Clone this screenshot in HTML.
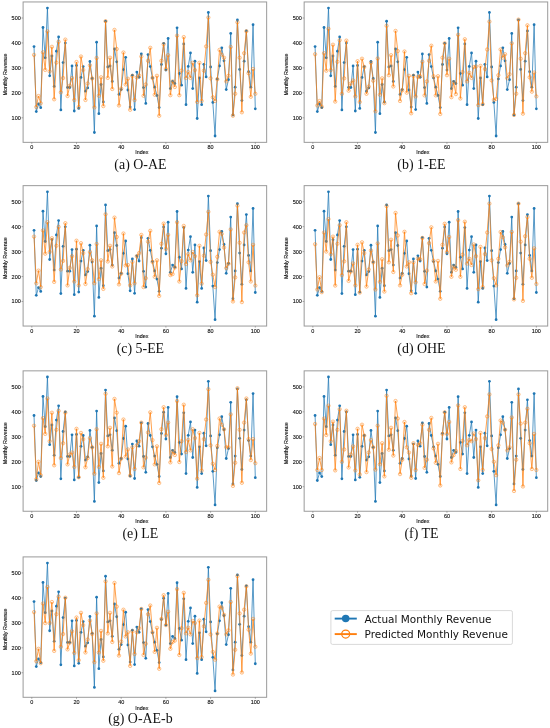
<!DOCTYPE html>
<html><head><meta charset="utf-8"><title>Monthly Revenue: actual vs predicted</title>
<style>
html,body{margin:0;padding:0;background:#fff;}
svg{display:block;}
.t{font-family:"Liberation Sans",Arial,sans-serif;font-size:5.5px;fill:#111;stroke:#111;stroke-width:0.12px;}
.l{font-family:"Liberation Sans",Arial,sans-serif;font-size:5.4px;fill:#111;stroke:#111;stroke-width:0.12px;}
.c{font-family:"Liberation Serif","Times New Roman",serif;font-size:13.9px;fill:#111;}
.g{font-family:"DejaVu Sans",sans-serif;font-size:10.48px;fill:#111;}
</style></head><body>
<svg width="550" height="728" viewBox="0 0 550 728">
<rect width="550" height="728" fill="#fff"/>
<g transform="translate(23.1,1.95)">
<rect x="0" y="0" width="243.55" height="140.4" fill="#fff" stroke="#9a9a9a" stroke-width="1"/>
<path d="M8.7 140.4v1.6M53.4 140.4v1.6M98.1 140.4v1.6M142.8 140.4v1.6M187.5 140.4v1.6M232.2 140.4v1.6M0 115.85h-1.6M0 90.9h-1.6M0 65.95h-1.6M0 41h-1.6M0 16.05h-1.6" stroke="#666" stroke-width="0.5" fill="none"/>
<text class="t" x="8.7" y="147.05" text-anchor="middle">0</text>
<text class="t" x="53.4" y="147.05" text-anchor="middle">20</text>
<text class="t" x="98.1" y="147.05" text-anchor="middle">40</text>
<text class="t" x="142.8" y="147.05" text-anchor="middle">60</text>
<text class="t" x="187.5" y="147.05" text-anchor="middle">80</text>
<text class="t" x="232.2" y="147.05" text-anchor="middle">100</text>
<text class="t" x="-2.3" y="117.85" text-anchor="end">100</text>
<text class="t" x="-2.3" y="92.9" text-anchor="end">200</text>
<text class="t" x="-2.3" y="67.95" text-anchor="end">300</text>
<text class="t" x="-2.3" y="43" text-anchor="end">400</text>
<text class="t" x="-2.3" y="18.05" text-anchor="end">500</text>
<text class="l" x="118.8" y="152.35" text-anchor="middle">Index</text>
<text class="l" transform="translate(-16.2,72.5) rotate(-90)" text-anchor="middle">Monthly Revenue</text>
<polyline points="10.93,44.65 13.17,109.65 15.4,102.05 17.64,105.75 19.88,25.55 22.11,55.85 24.34,6.15 26.58,73.85 28.81,54.05 31.05,84.45 33.28,49.25 35.52,34.95 37.75,107.95 39.99,60.65 42.22,41.15 44.46,85.55 46.69,85.55 48.93,63.95 51.16,109.05 53.4,63.55 55.63,106.45 57.87,75.45 60.1,64.65 62.34,89.25 64.58,85.95 66.81,59.55 69.05,76.45 71.28,130.55 73.52,40.25 75.75,111.75 77.98,82.55 80.22,100.05 82.45,19.25 84.69,65.05 86.92,63.95 89.16,79.45 91.39,47.05 93.63,59.85 95.86,92.45 98.1,87.65 100.33,67.65 102.57,55.35 104.8,88.05 107.04,105.15 109.27,73.25 111.51,107.65 113.74,70.15 115.98,75.35 118.22,52.05 120.45,85.65 122.69,101.45 124.92,52.65 127.16,64.65 129.39,75.95 131.62,85.25 133.86,93.45 136.09,105.65 138.33,62.55 140.56,41.35 142.8,68.15 145.03,36.55 147.27,86.65 149.5,79.45 151.74,81.55 153.97,25.85 156.21,71.55 158.44,83.25 160.68,41.95 162.91,102.75 165.15,64.45 167.38,51.05 169.62,86.65 171.85,59.25 174.09,116.55 176.32,75.95 178.56,102.75 180.79,62.35 183.03,74.95 185.26,10.45 187.5,65.05 189.73,100.45 191.97,134.05 194.2,76.95 196.44,63.95 198.67,45.85 200.91,58.85 203.14,87.65 205.38,77.75 207.61,31.45 209.85,113.05 212.08,85.25 214.32,18.05 216.55,67.45 218.79,98.65 221.02,59.25 223.26,28.95 225.49,69.75 227.73,85.25 229.96,22.75 232.2,106.85" fill="none" stroke="#1f77b4" stroke-width="0.74" stroke-linejoin="round"/>
<g fill="#1f77b4"><circle cx="10.93" cy="44.65" r="1.38"/><circle cx="13.17" cy="109.65" r="1.38"/><circle cx="15.4" cy="102.05" r="1.38"/><circle cx="17.64" cy="105.75" r="1.38"/><circle cx="19.88" cy="25.55" r="1.38"/><circle cx="22.11" cy="55.85" r="1.38"/><circle cx="24.34" cy="6.15" r="1.38"/><circle cx="26.58" cy="73.85" r="1.38"/><circle cx="28.81" cy="54.05" r="1.38"/><circle cx="31.05" cy="84.45" r="1.38"/><circle cx="33.28" cy="49.25" r="1.38"/><circle cx="35.52" cy="34.95" r="1.38"/><circle cx="37.75" cy="107.95" r="1.38"/><circle cx="39.99" cy="60.65" r="1.38"/><circle cx="42.22" cy="41.15" r="1.38"/><circle cx="44.46" cy="85.55" r="1.38"/><circle cx="46.69" cy="85.55" r="1.38"/><circle cx="48.93" cy="63.95" r="1.38"/><circle cx="51.16" cy="109.05" r="1.38"/><circle cx="53.4" cy="63.55" r="1.38"/><circle cx="55.63" cy="106.45" r="1.38"/><circle cx="57.87" cy="75.45" r="1.38"/><circle cx="60.1" cy="64.65" r="1.38"/><circle cx="62.34" cy="89.25" r="1.38"/><circle cx="64.58" cy="85.95" r="1.38"/><circle cx="66.81" cy="59.55" r="1.38"/><circle cx="69.05" cy="76.45" r="1.38"/><circle cx="71.28" cy="130.55" r="1.38"/><circle cx="73.52" cy="40.25" r="1.38"/><circle cx="75.75" cy="111.75" r="1.38"/><circle cx="77.98" cy="82.55" r="1.38"/><circle cx="80.22" cy="100.05" r="1.38"/><circle cx="82.45" cy="19.25" r="1.38"/><circle cx="84.69" cy="65.05" r="1.38"/><circle cx="86.92" cy="63.95" r="1.38"/><circle cx="89.16" cy="79.45" r="1.38"/><circle cx="91.39" cy="47.05" r="1.38"/><circle cx="93.63" cy="59.85" r="1.38"/><circle cx="95.86" cy="92.45" r="1.38"/><circle cx="98.1" cy="87.65" r="1.38"/><circle cx="100.33" cy="67.65" r="1.38"/><circle cx="102.57" cy="55.35" r="1.38"/><circle cx="104.8" cy="88.05" r="1.38"/><circle cx="107.04" cy="105.15" r="1.38"/><circle cx="109.27" cy="73.25" r="1.38"/><circle cx="111.51" cy="107.65" r="1.38"/><circle cx="113.74" cy="70.15" r="1.38"/><circle cx="115.98" cy="75.35" r="1.38"/><circle cx="118.22" cy="52.05" r="1.38"/><circle cx="120.45" cy="85.65" r="1.38"/><circle cx="122.69" cy="101.45" r="1.38"/><circle cx="124.92" cy="52.65" r="1.38"/><circle cx="127.16" cy="64.65" r="1.38"/><circle cx="129.39" cy="75.95" r="1.38"/><circle cx="131.62" cy="85.25" r="1.38"/><circle cx="133.86" cy="93.45" r="1.38"/><circle cx="136.09" cy="105.65" r="1.38"/><circle cx="138.33" cy="62.55" r="1.38"/><circle cx="140.56" cy="41.35" r="1.38"/><circle cx="142.8" cy="68.15" r="1.38"/><circle cx="145.03" cy="36.55" r="1.38"/><circle cx="147.27" cy="86.65" r="1.38"/><circle cx="149.5" cy="79.45" r="1.38"/><circle cx="151.74" cy="81.55" r="1.38"/><circle cx="153.97" cy="25.85" r="1.38"/><circle cx="156.21" cy="71.55" r="1.38"/><circle cx="158.44" cy="83.25" r="1.38"/><circle cx="160.68" cy="41.95" r="1.38"/><circle cx="162.91" cy="102.75" r="1.38"/><circle cx="165.15" cy="64.45" r="1.38"/><circle cx="167.38" cy="51.05" r="1.38"/><circle cx="169.62" cy="86.65" r="1.38"/><circle cx="171.85" cy="59.25" r="1.38"/><circle cx="174.09" cy="116.55" r="1.38"/><circle cx="176.32" cy="75.95" r="1.38"/><circle cx="178.56" cy="102.75" r="1.38"/><circle cx="180.79" cy="62.35" r="1.38"/><circle cx="183.03" cy="74.95" r="1.38"/><circle cx="185.26" cy="10.45" r="1.38"/><circle cx="187.5" cy="65.05" r="1.38"/><circle cx="189.73" cy="100.45" r="1.38"/><circle cx="191.97" cy="134.05" r="1.38"/><circle cx="194.2" cy="76.95" r="1.38"/><circle cx="196.44" cy="63.95" r="1.38"/><circle cx="198.67" cy="45.85" r="1.38"/><circle cx="200.91" cy="58.85" r="1.38"/><circle cx="203.14" cy="87.65" r="1.38"/><circle cx="205.38" cy="77.75" r="1.38"/><circle cx="207.61" cy="31.45" r="1.38"/><circle cx="209.85" cy="113.05" r="1.38"/><circle cx="212.08" cy="85.25" r="1.38"/><circle cx="214.32" cy="18.05" r="1.38"/><circle cx="216.55" cy="67.45" r="1.38"/><circle cx="218.79" cy="98.65" r="1.38"/><circle cx="221.02" cy="59.25" r="1.38"/><circle cx="223.26" cy="28.95" r="1.38"/><circle cx="225.49" cy="69.75" r="1.38"/><circle cx="227.73" cy="85.25" r="1.38"/><circle cx="229.96" cy="22.75" r="1.38"/><circle cx="232.2" cy="106.85" r="1.38"/></g>
<polyline points="10.93,52.95 13.17,105.05 15.4,94.05 17.64,101.35 19.88,50.35 22.11,67.95 24.34,29.45 26.58,69.45 28.81,44.85 31.05,97.35 33.28,60.65 35.52,39.85 37.75,90.35 39.99,76.05 42.22,37.65 44.46,94.05 46.69,83.75 48.93,76.05 51.16,98.05 53.4,60.05 55.63,105.05 57.87,54.55 60.1,67.95 62.34,98.05 64.58,81.55 66.81,63.35 69.05,76.55 71.28,105.45 73.52,56.05 75.75,93.85 77.98,75.35 80.22,104.15 82.45,19.25 84.69,75.95 86.92,55.75 89.16,87.05 91.39,27.95 93.63,47.05 95.86,103.55 98.1,86.65 100.33,50.55 102.57,82.55 104.8,76.75 107.04,107.85 109.27,74.05 111.51,98.05 113.74,75.55 115.98,73.55 118.22,54.55 120.45,93.85 122.69,82.55 124.92,58.85 127.16,45.85 129.39,75.95 131.62,92.85 133.86,73.85 136.09,113.85 138.33,58.85 140.56,42.35 142.8,67.05 145.03,53.25 147.27,93.25 149.5,79.45 151.74,85.05 153.97,33.75 156.21,93.25 158.44,68.65 160.68,35.15 162.91,76.15 165.15,70.15 167.38,75.95 169.62,60.85 171.85,68.15 174.09,100.05 176.32,60.85 178.56,99.05 180.79,68.75 183.03,44.45 185.26,15.55 187.5,76.35 189.73,95.35 191.97,99.05 194.2,77.35 196.44,47.95 198.67,52.65 200.91,55.75 203.14,79.45 205.38,73.85 207.61,45.05 209.85,113.85 212.08,91.85 214.32,20.35 216.55,55.75 218.79,110.35 221.02,51.25 223.26,29.35 225.49,71.25 227.73,94.85 229.96,67.05 232.2,91.85" fill="none" stroke="#ff7f0e" stroke-width="0.74" stroke-linejoin="round"/>
<g fill="#ff7f0e" fill-opacity="0.1" stroke="#ff7f0e" stroke-width="0.6" stroke-opacity="0.75"><circle cx="10.93" cy="52.95" r="1.7"/><circle cx="13.17" cy="105.05" r="1.7"/><circle cx="15.4" cy="94.05" r="1.7"/><circle cx="17.64" cy="101.35" r="1.7"/><circle cx="19.88" cy="50.35" r="1.7"/><circle cx="22.11" cy="67.95" r="1.7"/><circle cx="24.34" cy="29.45" r="1.7"/><circle cx="26.58" cy="69.45" r="1.7"/><circle cx="28.81" cy="44.85" r="1.7"/><circle cx="31.05" cy="97.35" r="1.7"/><circle cx="33.28" cy="60.65" r="1.7"/><circle cx="35.52" cy="39.85" r="1.7"/><circle cx="37.75" cy="90.35" r="1.7"/><circle cx="39.99" cy="76.05" r="1.7"/><circle cx="42.22" cy="37.65" r="1.7"/><circle cx="44.46" cy="94.05" r="1.7"/><circle cx="46.69" cy="83.75" r="1.7"/><circle cx="48.93" cy="76.05" r="1.7"/><circle cx="51.16" cy="98.05" r="1.7"/><circle cx="53.4" cy="60.05" r="1.7"/><circle cx="55.63" cy="105.05" r="1.7"/><circle cx="57.87" cy="54.55" r="1.7"/><circle cx="60.1" cy="67.95" r="1.7"/><circle cx="62.34" cy="98.05" r="1.7"/><circle cx="64.58" cy="81.55" r="1.7"/><circle cx="66.81" cy="63.35" r="1.7"/><circle cx="69.05" cy="76.55" r="1.7"/><circle cx="71.28" cy="105.45" r="1.7"/><circle cx="73.52" cy="56.05" r="1.7"/><circle cx="75.75" cy="93.85" r="1.7"/><circle cx="77.98" cy="75.35" r="1.7"/><circle cx="80.22" cy="104.15" r="1.7"/><circle cx="82.45" cy="19.25" r="1.7"/><circle cx="84.69" cy="75.95" r="1.7"/><circle cx="86.92" cy="55.75" r="1.7"/><circle cx="89.16" cy="87.05" r="1.7"/><circle cx="91.39" cy="27.95" r="1.7"/><circle cx="93.63" cy="47.05" r="1.7"/><circle cx="95.86" cy="103.55" r="1.7"/><circle cx="98.1" cy="86.65" r="1.7"/><circle cx="100.33" cy="50.55" r="1.7"/><circle cx="102.57" cy="82.55" r="1.7"/><circle cx="104.8" cy="76.75" r="1.7"/><circle cx="107.04" cy="107.85" r="1.7"/><circle cx="109.27" cy="74.05" r="1.7"/><circle cx="111.51" cy="98.05" r="1.7"/><circle cx="113.74" cy="75.55" r="1.7"/><circle cx="115.98" cy="73.55" r="1.7"/><circle cx="118.22" cy="54.55" r="1.7"/><circle cx="120.45" cy="93.85" r="1.7"/><circle cx="122.69" cy="82.55" r="1.7"/><circle cx="124.92" cy="58.85" r="1.7"/><circle cx="127.16" cy="45.85" r="1.7"/><circle cx="129.39" cy="75.95" r="1.7"/><circle cx="131.62" cy="92.85" r="1.7"/><circle cx="133.86" cy="73.85" r="1.7"/><circle cx="136.09" cy="113.85" r="1.7"/><circle cx="138.33" cy="58.85" r="1.7"/><circle cx="140.56" cy="42.35" r="1.7"/><circle cx="142.8" cy="67.05" r="1.7"/><circle cx="145.03" cy="53.25" r="1.7"/><circle cx="147.27" cy="93.25" r="1.7"/><circle cx="149.5" cy="79.45" r="1.7"/><circle cx="151.74" cy="85.05" r="1.7"/><circle cx="153.97" cy="33.75" r="1.7"/><circle cx="156.21" cy="93.25" r="1.7"/><circle cx="158.44" cy="68.65" r="1.7"/><circle cx="160.68" cy="35.15" r="1.7"/><circle cx="162.91" cy="76.15" r="1.7"/><circle cx="165.15" cy="70.15" r="1.7"/><circle cx="167.38" cy="75.95" r="1.7"/><circle cx="169.62" cy="60.85" r="1.7"/><circle cx="171.85" cy="68.15" r="1.7"/><circle cx="174.09" cy="100.05" r="1.7"/><circle cx="176.32" cy="60.85" r="1.7"/><circle cx="178.56" cy="99.05" r="1.7"/><circle cx="180.79" cy="68.75" r="1.7"/><circle cx="183.03" cy="44.45" r="1.7"/><circle cx="185.26" cy="15.55" r="1.7"/><circle cx="187.5" cy="76.35" r="1.7"/><circle cx="189.73" cy="95.35" r="1.7"/><circle cx="191.97" cy="99.05" r="1.7"/><circle cx="194.2" cy="77.35" r="1.7"/><circle cx="196.44" cy="47.95" r="1.7"/><circle cx="198.67" cy="52.65" r="1.7"/><circle cx="200.91" cy="55.75" r="1.7"/><circle cx="203.14" cy="79.45" r="1.7"/><circle cx="205.38" cy="73.85" r="1.7"/><circle cx="207.61" cy="45.05" r="1.7"/><circle cx="209.85" cy="113.85" r="1.7"/><circle cx="212.08" cy="91.85" r="1.7"/><circle cx="214.32" cy="20.35" r="1.7"/><circle cx="216.55" cy="55.75" r="1.7"/><circle cx="218.79" cy="110.35" r="1.7"/><circle cx="221.02" cy="51.25" r="1.7"/><circle cx="223.26" cy="29.35" r="1.7"/><circle cx="225.49" cy="71.25" r="1.7"/><circle cx="227.73" cy="94.85" r="1.7"/><circle cx="229.96" cy="67.05" r="1.7"/><circle cx="232.2" cy="91.85" r="1.7"/></g>
<text class="c" x="117.3" y="166.95" text-anchor="middle">(a) O-AE</text>
</g>
<g transform="translate(304.15,1.95)">
<rect x="0" y="0" width="243.55" height="140.4" fill="#fff" stroke="#9a9a9a" stroke-width="1"/>
<path d="M8.7 140.4v1.6M53.4 140.4v1.6M98.1 140.4v1.6M142.8 140.4v1.6M187.5 140.4v1.6M232.2 140.4v1.6M0 115.85h-1.6M0 90.9h-1.6M0 65.95h-1.6M0 41h-1.6M0 16.05h-1.6" stroke="#666" stroke-width="0.5" fill="none"/>
<text class="t" x="8.7" y="147.05" text-anchor="middle">0</text>
<text class="t" x="53.4" y="147.05" text-anchor="middle">20</text>
<text class="t" x="98.1" y="147.05" text-anchor="middle">40</text>
<text class="t" x="142.8" y="147.05" text-anchor="middle">60</text>
<text class="t" x="187.5" y="147.05" text-anchor="middle">80</text>
<text class="t" x="232.2" y="147.05" text-anchor="middle">100</text>
<text class="t" x="-2.3" y="117.85" text-anchor="end">100</text>
<text class="t" x="-2.3" y="92.9" text-anchor="end">200</text>
<text class="t" x="-2.3" y="67.95" text-anchor="end">300</text>
<text class="t" x="-2.3" y="43" text-anchor="end">400</text>
<text class="t" x="-2.3" y="18.05" text-anchor="end">500</text>
<text class="l" x="118.8" y="152.35" text-anchor="middle">Index</text>
<text class="l" transform="translate(-16.2,72.5) rotate(-90)" text-anchor="middle">Monthly Revenue</text>
<polyline points="10.93,44.65 13.17,109.65 15.4,102.05 17.64,105.75 19.88,25.55 22.11,55.85 24.34,6.15 26.58,73.85 28.81,54.05 31.05,84.45 33.28,49.25 35.52,34.95 37.75,107.95 39.99,60.65 42.22,41.15 44.46,85.55 46.69,85.55 48.93,63.95 51.16,109.05 53.4,63.55 55.63,106.45 57.87,75.45 60.1,64.65 62.34,89.25 64.58,85.95 66.81,59.55 69.05,76.45 71.28,130.55 73.52,40.25 75.75,111.75 77.98,82.55 80.22,100.05 82.45,19.25 84.69,65.05 86.92,63.95 89.16,79.45 91.39,47.05 93.63,59.85 95.86,92.45 98.1,87.65 100.33,67.65 102.57,55.35 104.8,88.05 107.04,105.15 109.27,73.25 111.51,107.65 113.74,70.15 115.98,75.35 118.22,52.05 120.45,85.65 122.69,101.45 124.92,52.65 127.16,64.65 129.39,75.95 131.62,85.25 133.86,93.45 136.09,105.65 138.33,62.55 140.56,41.35 142.8,68.15 145.03,36.55 147.27,86.65 149.5,79.45 151.74,81.55 153.97,25.85 156.21,71.55 158.44,83.25 160.68,41.95 162.91,102.75 165.15,64.45 167.38,51.05 169.62,86.65 171.85,59.25 174.09,116.55 176.32,75.95 178.56,102.75 180.79,62.35 183.03,74.95 185.26,10.45 187.5,65.05 189.73,100.45 191.97,134.05 194.2,76.95 196.44,63.95 198.67,45.85 200.91,58.85 203.14,87.65 205.38,77.75 207.61,31.45 209.85,113.05 212.08,85.25 214.32,18.05 216.55,67.45 218.79,98.65 221.02,59.25 223.26,28.95 225.49,69.75 227.73,85.25 229.96,22.75 232.2,106.85" fill="none" stroke="#1f77b4" stroke-width="0.74" stroke-linejoin="round"/>
<g fill="#1f77b4"><circle cx="10.93" cy="44.65" r="1.38"/><circle cx="13.17" cy="109.65" r="1.38"/><circle cx="15.4" cy="102.05" r="1.38"/><circle cx="17.64" cy="105.75" r="1.38"/><circle cx="19.88" cy="25.55" r="1.38"/><circle cx="22.11" cy="55.85" r="1.38"/><circle cx="24.34" cy="6.15" r="1.38"/><circle cx="26.58" cy="73.85" r="1.38"/><circle cx="28.81" cy="54.05" r="1.38"/><circle cx="31.05" cy="84.45" r="1.38"/><circle cx="33.28" cy="49.25" r="1.38"/><circle cx="35.52" cy="34.95" r="1.38"/><circle cx="37.75" cy="107.95" r="1.38"/><circle cx="39.99" cy="60.65" r="1.38"/><circle cx="42.22" cy="41.15" r="1.38"/><circle cx="44.46" cy="85.55" r="1.38"/><circle cx="46.69" cy="85.55" r="1.38"/><circle cx="48.93" cy="63.95" r="1.38"/><circle cx="51.16" cy="109.05" r="1.38"/><circle cx="53.4" cy="63.55" r="1.38"/><circle cx="55.63" cy="106.45" r="1.38"/><circle cx="57.87" cy="75.45" r="1.38"/><circle cx="60.1" cy="64.65" r="1.38"/><circle cx="62.34" cy="89.25" r="1.38"/><circle cx="64.58" cy="85.95" r="1.38"/><circle cx="66.81" cy="59.55" r="1.38"/><circle cx="69.05" cy="76.45" r="1.38"/><circle cx="71.28" cy="130.55" r="1.38"/><circle cx="73.52" cy="40.25" r="1.38"/><circle cx="75.75" cy="111.75" r="1.38"/><circle cx="77.98" cy="82.55" r="1.38"/><circle cx="80.22" cy="100.05" r="1.38"/><circle cx="82.45" cy="19.25" r="1.38"/><circle cx="84.69" cy="65.05" r="1.38"/><circle cx="86.92" cy="63.95" r="1.38"/><circle cx="89.16" cy="79.45" r="1.38"/><circle cx="91.39" cy="47.05" r="1.38"/><circle cx="93.63" cy="59.85" r="1.38"/><circle cx="95.86" cy="92.45" r="1.38"/><circle cx="98.1" cy="87.65" r="1.38"/><circle cx="100.33" cy="67.65" r="1.38"/><circle cx="102.57" cy="55.35" r="1.38"/><circle cx="104.8" cy="88.05" r="1.38"/><circle cx="107.04" cy="105.15" r="1.38"/><circle cx="109.27" cy="73.25" r="1.38"/><circle cx="111.51" cy="107.65" r="1.38"/><circle cx="113.74" cy="70.15" r="1.38"/><circle cx="115.98" cy="75.35" r="1.38"/><circle cx="118.22" cy="52.05" r="1.38"/><circle cx="120.45" cy="85.65" r="1.38"/><circle cx="122.69" cy="101.45" r="1.38"/><circle cx="124.92" cy="52.65" r="1.38"/><circle cx="127.16" cy="64.65" r="1.38"/><circle cx="129.39" cy="75.95" r="1.38"/><circle cx="131.62" cy="85.25" r="1.38"/><circle cx="133.86" cy="93.45" r="1.38"/><circle cx="136.09" cy="105.65" r="1.38"/><circle cx="138.33" cy="62.55" r="1.38"/><circle cx="140.56" cy="41.35" r="1.38"/><circle cx="142.8" cy="68.15" r="1.38"/><circle cx="145.03" cy="36.55" r="1.38"/><circle cx="147.27" cy="86.65" r="1.38"/><circle cx="149.5" cy="79.45" r="1.38"/><circle cx="151.74" cy="81.55" r="1.38"/><circle cx="153.97" cy="25.85" r="1.38"/><circle cx="156.21" cy="71.55" r="1.38"/><circle cx="158.44" cy="83.25" r="1.38"/><circle cx="160.68" cy="41.95" r="1.38"/><circle cx="162.91" cy="102.75" r="1.38"/><circle cx="165.15" cy="64.45" r="1.38"/><circle cx="167.38" cy="51.05" r="1.38"/><circle cx="169.62" cy="86.65" r="1.38"/><circle cx="171.85" cy="59.25" r="1.38"/><circle cx="174.09" cy="116.55" r="1.38"/><circle cx="176.32" cy="75.95" r="1.38"/><circle cx="178.56" cy="102.75" r="1.38"/><circle cx="180.79" cy="62.35" r="1.38"/><circle cx="183.03" cy="74.95" r="1.38"/><circle cx="185.26" cy="10.45" r="1.38"/><circle cx="187.5" cy="65.05" r="1.38"/><circle cx="189.73" cy="100.45" r="1.38"/><circle cx="191.97" cy="134.05" r="1.38"/><circle cx="194.2" cy="76.95" r="1.38"/><circle cx="196.44" cy="63.95" r="1.38"/><circle cx="198.67" cy="45.85" r="1.38"/><circle cx="200.91" cy="58.85" r="1.38"/><circle cx="203.14" cy="87.65" r="1.38"/><circle cx="205.38" cy="77.75" r="1.38"/><circle cx="207.61" cy="31.45" r="1.38"/><circle cx="209.85" cy="113.05" r="1.38"/><circle cx="212.08" cy="85.25" r="1.38"/><circle cx="214.32" cy="18.05" r="1.38"/><circle cx="216.55" cy="67.45" r="1.38"/><circle cx="218.79" cy="98.65" r="1.38"/><circle cx="221.02" cy="59.25" r="1.38"/><circle cx="223.26" cy="28.95" r="1.38"/><circle cx="225.49" cy="69.75" r="1.38"/><circle cx="227.73" cy="85.25" r="1.38"/><circle cx="229.96" cy="22.75" r="1.38"/><circle cx="232.2" cy="106.85" r="1.38"/></g>
<polyline points="10.93,52.25 13.17,103.55 15.4,99.05 17.64,104.75 19.88,51.25 22.11,68.75 24.34,26.85 26.58,68.15 28.81,42.75 31.05,99.65 33.28,59.85 35.52,38.25 37.75,91.85 39.99,76.35 42.22,38.65 44.46,88.75 46.69,81.55 48.93,78.45 51.16,94.45 53.4,59.25 55.63,100.05 57.87,56.75 60.1,65.05 62.34,91.85 64.58,84.55 66.81,60.85 69.05,78.75 71.28,109.35 73.52,56.55 75.75,92.85 77.98,76.35 80.22,101.25 82.45,23.85 84.69,73.25 86.92,53.25 89.16,84.55 91.39,28.95 93.63,49.15 95.86,99.05 98.1,88.35 100.33,49.55 102.57,90.75 104.8,73.85 107.04,111.35 109.27,74.05 111.51,94.55 113.74,75.05 115.98,74.25 118.22,59.85 120.45,93.45 122.69,79.45 124.92,58.85 127.16,43.75 129.39,74.25 131.62,93.45 133.86,74.25 136.09,112.05 138.33,55.75 140.56,41.35 142.8,73.25 145.03,56.75 147.27,95.25 149.5,80.45 151.74,92.15 153.97,32.85 156.21,96.55 158.44,70.15 160.68,37.25 162.91,79.45 165.15,70.85 167.38,75.95 169.62,65.05 171.85,64.45 174.09,103.15 176.32,63.95 178.56,102.15 180.79,67.05 183.03,47.55 185.26,19.65 187.5,78.45 189.73,97.95 191.97,96.95 194.2,73.25 196.44,47.55 198.67,55.75 200.91,52.25 203.14,76.35 205.38,72.25 207.61,41.35 209.85,113.05 212.08,91.85 214.32,17.65 216.55,56.75 218.79,111.75 221.02,51.25 223.26,23.35 225.49,75.35 227.73,89.75 229.96,70.55 232.2,94.45" fill="none" stroke="#ff7f0e" stroke-width="0.74" stroke-linejoin="round"/>
<g fill="#ff7f0e" fill-opacity="0.1" stroke="#ff7f0e" stroke-width="0.6" stroke-opacity="0.75"><circle cx="10.93" cy="52.25" r="1.7"/><circle cx="13.17" cy="103.55" r="1.7"/><circle cx="15.4" cy="99.05" r="1.7"/><circle cx="17.64" cy="104.75" r="1.7"/><circle cx="19.88" cy="51.25" r="1.7"/><circle cx="22.11" cy="68.75" r="1.7"/><circle cx="24.34" cy="26.85" r="1.7"/><circle cx="26.58" cy="68.15" r="1.7"/><circle cx="28.81" cy="42.75" r="1.7"/><circle cx="31.05" cy="99.65" r="1.7"/><circle cx="33.28" cy="59.85" r="1.7"/><circle cx="35.52" cy="38.25" r="1.7"/><circle cx="37.75" cy="91.85" r="1.7"/><circle cx="39.99" cy="76.35" r="1.7"/><circle cx="42.22" cy="38.65" r="1.7"/><circle cx="44.46" cy="88.75" r="1.7"/><circle cx="46.69" cy="81.55" r="1.7"/><circle cx="48.93" cy="78.45" r="1.7"/><circle cx="51.16" cy="94.45" r="1.7"/><circle cx="53.4" cy="59.25" r="1.7"/><circle cx="55.63" cy="100.05" r="1.7"/><circle cx="57.87" cy="56.75" r="1.7"/><circle cx="60.1" cy="65.05" r="1.7"/><circle cx="62.34" cy="91.85" r="1.7"/><circle cx="64.58" cy="84.55" r="1.7"/><circle cx="66.81" cy="60.85" r="1.7"/><circle cx="69.05" cy="78.75" r="1.7"/><circle cx="71.28" cy="109.35" r="1.7"/><circle cx="73.52" cy="56.55" r="1.7"/><circle cx="75.75" cy="92.85" r="1.7"/><circle cx="77.98" cy="76.35" r="1.7"/><circle cx="80.22" cy="101.25" r="1.7"/><circle cx="82.45" cy="23.85" r="1.7"/><circle cx="84.69" cy="73.25" r="1.7"/><circle cx="86.92" cy="53.25" r="1.7"/><circle cx="89.16" cy="84.55" r="1.7"/><circle cx="91.39" cy="28.95" r="1.7"/><circle cx="93.63" cy="49.15" r="1.7"/><circle cx="95.86" cy="99.05" r="1.7"/><circle cx="98.1" cy="88.35" r="1.7"/><circle cx="100.33" cy="49.55" r="1.7"/><circle cx="102.57" cy="90.75" r="1.7"/><circle cx="104.8" cy="73.85" r="1.7"/><circle cx="107.04" cy="111.35" r="1.7"/><circle cx="109.27" cy="74.05" r="1.7"/><circle cx="111.51" cy="94.55" r="1.7"/><circle cx="113.74" cy="75.05" r="1.7"/><circle cx="115.98" cy="74.25" r="1.7"/><circle cx="118.22" cy="59.85" r="1.7"/><circle cx="120.45" cy="93.45" r="1.7"/><circle cx="122.69" cy="79.45" r="1.7"/><circle cx="124.92" cy="58.85" r="1.7"/><circle cx="127.16" cy="43.75" r="1.7"/><circle cx="129.39" cy="74.25" r="1.7"/><circle cx="131.62" cy="93.45" r="1.7"/><circle cx="133.86" cy="74.25" r="1.7"/><circle cx="136.09" cy="112.05" r="1.7"/><circle cx="138.33" cy="55.75" r="1.7"/><circle cx="140.56" cy="41.35" r="1.7"/><circle cx="142.8" cy="73.25" r="1.7"/><circle cx="145.03" cy="56.75" r="1.7"/><circle cx="147.27" cy="95.25" r="1.7"/><circle cx="149.5" cy="80.45" r="1.7"/><circle cx="151.74" cy="92.15" r="1.7"/><circle cx="153.97" cy="32.85" r="1.7"/><circle cx="156.21" cy="96.55" r="1.7"/><circle cx="158.44" cy="70.15" r="1.7"/><circle cx="160.68" cy="37.25" r="1.7"/><circle cx="162.91" cy="79.45" r="1.7"/><circle cx="165.15" cy="70.85" r="1.7"/><circle cx="167.38" cy="75.95" r="1.7"/><circle cx="169.62" cy="65.05" r="1.7"/><circle cx="171.85" cy="64.45" r="1.7"/><circle cx="174.09" cy="103.15" r="1.7"/><circle cx="176.32" cy="63.95" r="1.7"/><circle cx="178.56" cy="102.15" r="1.7"/><circle cx="180.79" cy="67.05" r="1.7"/><circle cx="183.03" cy="47.55" r="1.7"/><circle cx="185.26" cy="19.65" r="1.7"/><circle cx="187.5" cy="78.45" r="1.7"/><circle cx="189.73" cy="97.95" r="1.7"/><circle cx="191.97" cy="96.95" r="1.7"/><circle cx="194.2" cy="73.25" r="1.7"/><circle cx="196.44" cy="47.55" r="1.7"/><circle cx="198.67" cy="55.75" r="1.7"/><circle cx="200.91" cy="52.25" r="1.7"/><circle cx="203.14" cy="76.35" r="1.7"/><circle cx="205.38" cy="72.25" r="1.7"/><circle cx="207.61" cy="41.35" r="1.7"/><circle cx="209.85" cy="113.05" r="1.7"/><circle cx="212.08" cy="91.85" r="1.7"/><circle cx="214.32" cy="17.65" r="1.7"/><circle cx="216.55" cy="56.75" r="1.7"/><circle cx="218.79" cy="111.75" r="1.7"/><circle cx="221.02" cy="51.25" r="1.7"/><circle cx="223.26" cy="23.35" r="1.7"/><circle cx="225.49" cy="75.35" r="1.7"/><circle cx="227.73" cy="89.75" r="1.7"/><circle cx="229.96" cy="70.55" r="1.7"/><circle cx="232.2" cy="94.45" r="1.7"/></g>
<text class="c" x="117.3" y="166.95" text-anchor="middle">(b) 1-EE</text>
</g>
<g transform="translate(23.1,185.65)">
<rect x="0" y="0" width="243.55" height="140.4" fill="#fff" stroke="#9a9a9a" stroke-width="1"/>
<path d="M8.7 140.4v1.6M53.4 140.4v1.6M98.1 140.4v1.6M142.8 140.4v1.6M187.5 140.4v1.6M232.2 140.4v1.6M0 115.85h-1.6M0 90.9h-1.6M0 65.95h-1.6M0 41h-1.6M0 16.05h-1.6" stroke="#666" stroke-width="0.5" fill="none"/>
<text class="t" x="8.7" y="147.05" text-anchor="middle">0</text>
<text class="t" x="53.4" y="147.05" text-anchor="middle">20</text>
<text class="t" x="98.1" y="147.05" text-anchor="middle">40</text>
<text class="t" x="142.8" y="147.05" text-anchor="middle">60</text>
<text class="t" x="187.5" y="147.05" text-anchor="middle">80</text>
<text class="t" x="232.2" y="147.05" text-anchor="middle">100</text>
<text class="t" x="-2.3" y="117.85" text-anchor="end">100</text>
<text class="t" x="-2.3" y="92.9" text-anchor="end">200</text>
<text class="t" x="-2.3" y="67.95" text-anchor="end">300</text>
<text class="t" x="-2.3" y="43" text-anchor="end">400</text>
<text class="t" x="-2.3" y="18.05" text-anchor="end">500</text>
<text class="l" x="118.8" y="152.35" text-anchor="middle">Index</text>
<text class="l" transform="translate(-16.2,72.5) rotate(-90)" text-anchor="middle">Monthly Revenue</text>
<polyline points="10.93,44.65 13.17,109.65 15.4,102.05 17.64,105.75 19.88,25.55 22.11,55.85 24.34,6.15 26.58,73.85 28.81,54.05 31.05,84.45 33.28,49.25 35.52,34.95 37.75,107.95 39.99,60.65 42.22,41.15 44.46,85.55 46.69,85.55 48.93,63.95 51.16,109.05 53.4,63.55 55.63,106.45 57.87,75.45 60.1,64.65 62.34,89.25 64.58,85.95 66.81,59.55 69.05,76.45 71.28,130.55 73.52,40.25 75.75,111.75 77.98,82.55 80.22,100.05 82.45,19.25 84.69,65.05 86.92,63.95 89.16,79.45 91.39,47.05 93.63,59.85 95.86,92.45 98.1,87.65 100.33,67.65 102.57,55.35 104.8,88.05 107.04,105.15 109.27,73.25 111.51,107.65 113.74,70.15 115.98,75.35 118.22,52.05 120.45,85.65 122.69,101.45 124.92,52.65 127.16,64.65 129.39,75.95 131.62,85.25 133.86,93.45 136.09,105.65 138.33,62.55 140.56,41.35 142.8,68.15 145.03,36.55 147.27,86.65 149.5,79.45 151.74,81.55 153.97,25.85 156.21,71.55 158.44,83.25 160.68,41.95 162.91,102.75 165.15,64.45 167.38,51.05 169.62,86.65 171.85,59.25 174.09,116.55 176.32,75.95 178.56,102.75 180.79,62.35 183.03,74.95 185.26,10.45 187.5,65.05 189.73,100.45 191.97,134.05 194.2,76.95 196.44,63.95 198.67,45.85 200.91,58.85 203.14,87.65 205.38,77.75 207.61,31.45 209.85,113.05 212.08,85.25 214.32,18.05 216.55,67.45 218.79,98.65 221.02,59.25 223.26,28.95 225.49,69.75 227.73,85.25 229.96,22.75 232.2,106.85" fill="none" stroke="#1f77b4" stroke-width="0.74" stroke-linejoin="round"/>
<g fill="#1f77b4"><circle cx="10.93" cy="44.65" r="1.38"/><circle cx="13.17" cy="109.65" r="1.38"/><circle cx="15.4" cy="102.05" r="1.38"/><circle cx="17.64" cy="105.75" r="1.38"/><circle cx="19.88" cy="25.55" r="1.38"/><circle cx="22.11" cy="55.85" r="1.38"/><circle cx="24.34" cy="6.15" r="1.38"/><circle cx="26.58" cy="73.85" r="1.38"/><circle cx="28.81" cy="54.05" r="1.38"/><circle cx="31.05" cy="84.45" r="1.38"/><circle cx="33.28" cy="49.25" r="1.38"/><circle cx="35.52" cy="34.95" r="1.38"/><circle cx="37.75" cy="107.95" r="1.38"/><circle cx="39.99" cy="60.65" r="1.38"/><circle cx="42.22" cy="41.15" r="1.38"/><circle cx="44.46" cy="85.55" r="1.38"/><circle cx="46.69" cy="85.55" r="1.38"/><circle cx="48.93" cy="63.95" r="1.38"/><circle cx="51.16" cy="109.05" r="1.38"/><circle cx="53.4" cy="63.55" r="1.38"/><circle cx="55.63" cy="106.45" r="1.38"/><circle cx="57.87" cy="75.45" r="1.38"/><circle cx="60.1" cy="64.65" r="1.38"/><circle cx="62.34" cy="89.25" r="1.38"/><circle cx="64.58" cy="85.95" r="1.38"/><circle cx="66.81" cy="59.55" r="1.38"/><circle cx="69.05" cy="76.45" r="1.38"/><circle cx="71.28" cy="130.55" r="1.38"/><circle cx="73.52" cy="40.25" r="1.38"/><circle cx="75.75" cy="111.75" r="1.38"/><circle cx="77.98" cy="82.55" r="1.38"/><circle cx="80.22" cy="100.05" r="1.38"/><circle cx="82.45" cy="19.25" r="1.38"/><circle cx="84.69" cy="65.05" r="1.38"/><circle cx="86.92" cy="63.95" r="1.38"/><circle cx="89.16" cy="79.45" r="1.38"/><circle cx="91.39" cy="47.05" r="1.38"/><circle cx="93.63" cy="59.85" r="1.38"/><circle cx="95.86" cy="92.45" r="1.38"/><circle cx="98.1" cy="87.65" r="1.38"/><circle cx="100.33" cy="67.65" r="1.38"/><circle cx="102.57" cy="55.35" r="1.38"/><circle cx="104.8" cy="88.05" r="1.38"/><circle cx="107.04" cy="105.15" r="1.38"/><circle cx="109.27" cy="73.25" r="1.38"/><circle cx="111.51" cy="107.65" r="1.38"/><circle cx="113.74" cy="70.15" r="1.38"/><circle cx="115.98" cy="75.35" r="1.38"/><circle cx="118.22" cy="52.05" r="1.38"/><circle cx="120.45" cy="85.65" r="1.38"/><circle cx="122.69" cy="101.45" r="1.38"/><circle cx="124.92" cy="52.65" r="1.38"/><circle cx="127.16" cy="64.65" r="1.38"/><circle cx="129.39" cy="75.95" r="1.38"/><circle cx="131.62" cy="85.25" r="1.38"/><circle cx="133.86" cy="93.45" r="1.38"/><circle cx="136.09" cy="105.65" r="1.38"/><circle cx="138.33" cy="62.55" r="1.38"/><circle cx="140.56" cy="41.35" r="1.38"/><circle cx="142.8" cy="68.15" r="1.38"/><circle cx="145.03" cy="36.55" r="1.38"/><circle cx="147.27" cy="86.65" r="1.38"/><circle cx="149.5" cy="79.45" r="1.38"/><circle cx="151.74" cy="81.55" r="1.38"/><circle cx="153.97" cy="25.85" r="1.38"/><circle cx="156.21" cy="71.55" r="1.38"/><circle cx="158.44" cy="83.25" r="1.38"/><circle cx="160.68" cy="41.95" r="1.38"/><circle cx="162.91" cy="102.75" r="1.38"/><circle cx="165.15" cy="64.45" r="1.38"/><circle cx="167.38" cy="51.05" r="1.38"/><circle cx="169.62" cy="86.65" r="1.38"/><circle cx="171.85" cy="59.25" r="1.38"/><circle cx="174.09" cy="116.55" r="1.38"/><circle cx="176.32" cy="75.95" r="1.38"/><circle cx="178.56" cy="102.75" r="1.38"/><circle cx="180.79" cy="62.35" r="1.38"/><circle cx="183.03" cy="74.95" r="1.38"/><circle cx="185.26" cy="10.45" r="1.38"/><circle cx="187.5" cy="65.05" r="1.38"/><circle cx="189.73" cy="100.45" r="1.38"/><circle cx="191.97" cy="134.05" r="1.38"/><circle cx="194.2" cy="76.95" r="1.38"/><circle cx="196.44" cy="63.95" r="1.38"/><circle cx="198.67" cy="45.85" r="1.38"/><circle cx="200.91" cy="58.85" r="1.38"/><circle cx="203.14" cy="87.65" r="1.38"/><circle cx="205.38" cy="77.75" r="1.38"/><circle cx="207.61" cy="31.45" r="1.38"/><circle cx="209.85" cy="113.05" r="1.38"/><circle cx="212.08" cy="85.25" r="1.38"/><circle cx="214.32" cy="18.05" r="1.38"/><circle cx="216.55" cy="67.45" r="1.38"/><circle cx="218.79" cy="98.65" r="1.38"/><circle cx="221.02" cy="59.25" r="1.38"/><circle cx="223.26" cy="28.95" r="1.38"/><circle cx="225.49" cy="69.75" r="1.38"/><circle cx="227.73" cy="85.25" r="1.38"/><circle cx="229.96" cy="22.75" r="1.38"/><circle cx="232.2" cy="106.85" r="1.38"/></g>
<polyline points="10.93,50.95 13.17,97.65 15.4,84.95 17.64,101.45 19.88,44.75 22.11,68.05 24.34,36.55 26.58,66.35 28.81,52.55 31.05,96.25 33.28,60.15 35.52,41.25 37.75,83.85 39.99,75.25 42.22,37.55 44.46,99.75 46.69,82.25 48.93,70.55 51.16,95.85 53.4,55.05 55.63,99.75 57.87,57.55 60.1,67.45 62.34,98.35 64.58,83.45 66.81,66.35 69.05,74.65 71.28,97.55 73.52,58.35 75.75,93.45 77.98,74.65 80.22,103.25 82.45,28.65 84.69,75.85 86.92,60.15 89.16,80.85 91.39,31.95 93.63,51.35 95.86,98.75 98.1,88.05 100.33,47.85 102.57,79.75 104.8,79.35 107.04,99.75 109.27,76.25 111.51,97.65 113.74,70.55 115.98,67.45 118.22,49.25 120.45,101.45 122.69,92.55 124.92,56.05 127.16,45.15 129.39,76.25 131.62,91.15 133.86,74.65 136.09,110.25 138.33,58.15 140.56,37.95 142.8,63.25 145.03,49.25 147.27,89.45 149.5,88.45 151.74,81.85 153.97,36.55 156.21,95.85 158.44,75.45 160.68,40.25 162.91,78.45 165.15,68.45 167.38,74.65 169.62,66.35 171.85,70.55 174.09,109.65 176.32,60.15 178.56,97.95 180.79,70.05 183.03,48.85 185.26,26.15 187.5,76.25 189.73,89.05 191.97,101.45 194.2,71.15 196.44,46.15 198.67,48.25 200.91,61.85 203.14,82.45 205.38,78.15 207.61,43.75 209.85,115.85 212.08,91.75 214.32,20.05 216.55,57.15 218.79,116.45 221.02,46.85 223.26,39.55 225.49,76.65 227.73,95.85 229.96,59.15 232.2,99.95" fill="none" stroke="#ff7f0e" stroke-width="0.74" stroke-linejoin="round"/>
<g fill="#ff7f0e" fill-opacity="0.1" stroke="#ff7f0e" stroke-width="0.6" stroke-opacity="0.75"><circle cx="10.93" cy="50.95" r="1.7"/><circle cx="13.17" cy="97.65" r="1.7"/><circle cx="15.4" cy="84.95" r="1.7"/><circle cx="17.64" cy="101.45" r="1.7"/><circle cx="19.88" cy="44.75" r="1.7"/><circle cx="22.11" cy="68.05" r="1.7"/><circle cx="24.34" cy="36.55" r="1.7"/><circle cx="26.58" cy="66.35" r="1.7"/><circle cx="28.81" cy="52.55" r="1.7"/><circle cx="31.05" cy="96.25" r="1.7"/><circle cx="33.28" cy="60.15" r="1.7"/><circle cx="35.52" cy="41.25" r="1.7"/><circle cx="37.75" cy="83.85" r="1.7"/><circle cx="39.99" cy="75.25" r="1.7"/><circle cx="42.22" cy="37.55" r="1.7"/><circle cx="44.46" cy="99.75" r="1.7"/><circle cx="46.69" cy="82.25" r="1.7"/><circle cx="48.93" cy="70.55" r="1.7"/><circle cx="51.16" cy="95.85" r="1.7"/><circle cx="53.4" cy="55.05" r="1.7"/><circle cx="55.63" cy="99.75" r="1.7"/><circle cx="57.87" cy="57.55" r="1.7"/><circle cx="60.1" cy="67.45" r="1.7"/><circle cx="62.34" cy="98.35" r="1.7"/><circle cx="64.58" cy="83.45" r="1.7"/><circle cx="66.81" cy="66.35" r="1.7"/><circle cx="69.05" cy="74.65" r="1.7"/><circle cx="71.28" cy="97.55" r="1.7"/><circle cx="73.52" cy="58.35" r="1.7"/><circle cx="75.75" cy="93.45" r="1.7"/><circle cx="77.98" cy="74.65" r="1.7"/><circle cx="80.22" cy="103.25" r="1.7"/><circle cx="82.45" cy="28.65" r="1.7"/><circle cx="84.69" cy="75.85" r="1.7"/><circle cx="86.92" cy="60.15" r="1.7"/><circle cx="89.16" cy="80.85" r="1.7"/><circle cx="91.39" cy="31.95" r="1.7"/><circle cx="93.63" cy="51.35" r="1.7"/><circle cx="95.86" cy="98.75" r="1.7"/><circle cx="98.1" cy="88.05" r="1.7"/><circle cx="100.33" cy="47.85" r="1.7"/><circle cx="102.57" cy="79.75" r="1.7"/><circle cx="104.8" cy="79.35" r="1.7"/><circle cx="107.04" cy="99.75" r="1.7"/><circle cx="109.27" cy="76.25" r="1.7"/><circle cx="111.51" cy="97.65" r="1.7"/><circle cx="113.74" cy="70.55" r="1.7"/><circle cx="115.98" cy="67.45" r="1.7"/><circle cx="118.22" cy="49.25" r="1.7"/><circle cx="120.45" cy="101.45" r="1.7"/><circle cx="122.69" cy="92.55" r="1.7"/><circle cx="124.92" cy="56.05" r="1.7"/><circle cx="127.16" cy="45.15" r="1.7"/><circle cx="129.39" cy="76.25" r="1.7"/><circle cx="131.62" cy="91.15" r="1.7"/><circle cx="133.86" cy="74.65" r="1.7"/><circle cx="136.09" cy="110.25" r="1.7"/><circle cx="138.33" cy="58.15" r="1.7"/><circle cx="140.56" cy="37.95" r="1.7"/><circle cx="142.8" cy="63.25" r="1.7"/><circle cx="145.03" cy="49.25" r="1.7"/><circle cx="147.27" cy="89.45" r="1.7"/><circle cx="149.5" cy="88.45" r="1.7"/><circle cx="151.74" cy="81.85" r="1.7"/><circle cx="153.97" cy="36.55" r="1.7"/><circle cx="156.21" cy="95.85" r="1.7"/><circle cx="158.44" cy="75.45" r="1.7"/><circle cx="160.68" cy="40.25" r="1.7"/><circle cx="162.91" cy="78.45" r="1.7"/><circle cx="165.15" cy="68.45" r="1.7"/><circle cx="167.38" cy="74.65" r="1.7"/><circle cx="169.62" cy="66.35" r="1.7"/><circle cx="171.85" cy="70.55" r="1.7"/><circle cx="174.09" cy="109.65" r="1.7"/><circle cx="176.32" cy="60.15" r="1.7"/><circle cx="178.56" cy="97.95" r="1.7"/><circle cx="180.79" cy="70.05" r="1.7"/><circle cx="183.03" cy="48.85" r="1.7"/><circle cx="185.26" cy="26.15" r="1.7"/><circle cx="187.5" cy="76.25" r="1.7"/><circle cx="189.73" cy="89.05" r="1.7"/><circle cx="191.97" cy="101.45" r="1.7"/><circle cx="194.2" cy="71.15" r="1.7"/><circle cx="196.44" cy="46.15" r="1.7"/><circle cx="198.67" cy="48.25" r="1.7"/><circle cx="200.91" cy="61.85" r="1.7"/><circle cx="203.14" cy="82.45" r="1.7"/><circle cx="205.38" cy="78.15" r="1.7"/><circle cx="207.61" cy="43.75" r="1.7"/><circle cx="209.85" cy="115.85" r="1.7"/><circle cx="212.08" cy="91.75" r="1.7"/><circle cx="214.32" cy="20.05" r="1.7"/><circle cx="216.55" cy="57.15" r="1.7"/><circle cx="218.79" cy="116.45" r="1.7"/><circle cx="221.02" cy="46.85" r="1.7"/><circle cx="223.26" cy="39.55" r="1.7"/><circle cx="225.49" cy="76.65" r="1.7"/><circle cx="227.73" cy="95.85" r="1.7"/><circle cx="229.96" cy="59.15" r="1.7"/><circle cx="232.2" cy="99.95" r="1.7"/></g>
<text class="c" x="117.3" y="166.95" text-anchor="middle">(c) 5-EE</text>
</g>
<g transform="translate(304.15,185.65)">
<rect x="0" y="0" width="243.55" height="140.4" fill="#fff" stroke="#9a9a9a" stroke-width="1"/>
<path d="M8.7 140.4v1.6M53.4 140.4v1.6M98.1 140.4v1.6M142.8 140.4v1.6M187.5 140.4v1.6M232.2 140.4v1.6M0 115.85h-1.6M0 90.9h-1.6M0 65.95h-1.6M0 41h-1.6M0 16.05h-1.6" stroke="#666" stroke-width="0.5" fill="none"/>
<text class="t" x="8.7" y="147.05" text-anchor="middle">0</text>
<text class="t" x="53.4" y="147.05" text-anchor="middle">20</text>
<text class="t" x="98.1" y="147.05" text-anchor="middle">40</text>
<text class="t" x="142.8" y="147.05" text-anchor="middle">60</text>
<text class="t" x="187.5" y="147.05" text-anchor="middle">80</text>
<text class="t" x="232.2" y="147.05" text-anchor="middle">100</text>
<text class="t" x="-2.3" y="117.85" text-anchor="end">100</text>
<text class="t" x="-2.3" y="92.9" text-anchor="end">200</text>
<text class="t" x="-2.3" y="67.95" text-anchor="end">300</text>
<text class="t" x="-2.3" y="43" text-anchor="end">400</text>
<text class="t" x="-2.3" y="18.05" text-anchor="end">500</text>
<text class="l" x="118.8" y="152.35" text-anchor="middle">Index</text>
<text class="l" transform="translate(-16.2,72.5) rotate(-90)" text-anchor="middle">Monthly Revenue</text>
<polyline points="10.93,44.65 13.17,109.65 15.4,102.05 17.64,105.75 19.88,25.55 22.11,55.85 24.34,6.15 26.58,73.85 28.81,54.05 31.05,84.45 33.28,49.25 35.52,34.95 37.75,107.95 39.99,60.65 42.22,41.15 44.46,85.55 46.69,85.55 48.93,63.95 51.16,109.05 53.4,63.55 55.63,106.45 57.87,75.45 60.1,64.65 62.34,89.25 64.58,85.95 66.81,59.55 69.05,76.45 71.28,130.55 73.52,40.25 75.75,111.75 77.98,82.55 80.22,100.05 82.45,19.25 84.69,65.05 86.92,63.95 89.16,79.45 91.39,47.05 93.63,59.85 95.86,92.45 98.1,87.65 100.33,67.65 102.57,55.35 104.8,88.05 107.04,105.15 109.27,73.25 111.51,107.65 113.74,70.15 115.98,75.35 118.22,52.05 120.45,85.65 122.69,101.45 124.92,52.65 127.16,64.65 129.39,75.95 131.62,85.25 133.86,93.45 136.09,105.65 138.33,62.55 140.56,41.35 142.8,68.15 145.03,36.55 147.27,86.65 149.5,79.45 151.74,81.55 153.97,25.85 156.21,71.55 158.44,83.25 160.68,41.95 162.91,102.75 165.15,64.45 167.38,51.05 169.62,86.65 171.85,59.25 174.09,116.55 176.32,75.95 178.56,102.75 180.79,62.35 183.03,74.95 185.26,10.45 187.5,65.05 189.73,100.45 191.97,134.05 194.2,76.95 196.44,63.95 198.67,45.85 200.91,58.85 203.14,87.65 205.38,77.75 207.61,31.45 209.85,113.05 212.08,85.25 214.32,18.05 216.55,67.45 218.79,98.65 221.02,59.25 223.26,28.95 225.49,69.75 227.73,85.25 229.96,22.75 232.2,106.85" fill="none" stroke="#1f77b4" stroke-width="0.74" stroke-linejoin="round"/>
<g fill="#1f77b4"><circle cx="10.93" cy="44.65" r="1.38"/><circle cx="13.17" cy="109.65" r="1.38"/><circle cx="15.4" cy="102.05" r="1.38"/><circle cx="17.64" cy="105.75" r="1.38"/><circle cx="19.88" cy="25.55" r="1.38"/><circle cx="22.11" cy="55.85" r="1.38"/><circle cx="24.34" cy="6.15" r="1.38"/><circle cx="26.58" cy="73.85" r="1.38"/><circle cx="28.81" cy="54.05" r="1.38"/><circle cx="31.05" cy="84.45" r="1.38"/><circle cx="33.28" cy="49.25" r="1.38"/><circle cx="35.52" cy="34.95" r="1.38"/><circle cx="37.75" cy="107.95" r="1.38"/><circle cx="39.99" cy="60.65" r="1.38"/><circle cx="42.22" cy="41.15" r="1.38"/><circle cx="44.46" cy="85.55" r="1.38"/><circle cx="46.69" cy="85.55" r="1.38"/><circle cx="48.93" cy="63.95" r="1.38"/><circle cx="51.16" cy="109.05" r="1.38"/><circle cx="53.4" cy="63.55" r="1.38"/><circle cx="55.63" cy="106.45" r="1.38"/><circle cx="57.87" cy="75.45" r="1.38"/><circle cx="60.1" cy="64.65" r="1.38"/><circle cx="62.34" cy="89.25" r="1.38"/><circle cx="64.58" cy="85.95" r="1.38"/><circle cx="66.81" cy="59.55" r="1.38"/><circle cx="69.05" cy="76.45" r="1.38"/><circle cx="71.28" cy="130.55" r="1.38"/><circle cx="73.52" cy="40.25" r="1.38"/><circle cx="75.75" cy="111.75" r="1.38"/><circle cx="77.98" cy="82.55" r="1.38"/><circle cx="80.22" cy="100.05" r="1.38"/><circle cx="82.45" cy="19.25" r="1.38"/><circle cx="84.69" cy="65.05" r="1.38"/><circle cx="86.92" cy="63.95" r="1.38"/><circle cx="89.16" cy="79.45" r="1.38"/><circle cx="91.39" cy="47.05" r="1.38"/><circle cx="93.63" cy="59.85" r="1.38"/><circle cx="95.86" cy="92.45" r="1.38"/><circle cx="98.1" cy="87.65" r="1.38"/><circle cx="100.33" cy="67.65" r="1.38"/><circle cx="102.57" cy="55.35" r="1.38"/><circle cx="104.8" cy="88.05" r="1.38"/><circle cx="107.04" cy="105.15" r="1.38"/><circle cx="109.27" cy="73.25" r="1.38"/><circle cx="111.51" cy="107.65" r="1.38"/><circle cx="113.74" cy="70.15" r="1.38"/><circle cx="115.98" cy="75.35" r="1.38"/><circle cx="118.22" cy="52.05" r="1.38"/><circle cx="120.45" cy="85.65" r="1.38"/><circle cx="122.69" cy="101.45" r="1.38"/><circle cx="124.92" cy="52.65" r="1.38"/><circle cx="127.16" cy="64.65" r="1.38"/><circle cx="129.39" cy="75.95" r="1.38"/><circle cx="131.62" cy="85.25" r="1.38"/><circle cx="133.86" cy="93.45" r="1.38"/><circle cx="136.09" cy="105.65" r="1.38"/><circle cx="138.33" cy="62.55" r="1.38"/><circle cx="140.56" cy="41.35" r="1.38"/><circle cx="142.8" cy="68.15" r="1.38"/><circle cx="145.03" cy="36.55" r="1.38"/><circle cx="147.27" cy="86.65" r="1.38"/><circle cx="149.5" cy="79.45" r="1.38"/><circle cx="151.74" cy="81.55" r="1.38"/><circle cx="153.97" cy="25.85" r="1.38"/><circle cx="156.21" cy="71.55" r="1.38"/><circle cx="158.44" cy="83.25" r="1.38"/><circle cx="160.68" cy="41.95" r="1.38"/><circle cx="162.91" cy="102.75" r="1.38"/><circle cx="165.15" cy="64.45" r="1.38"/><circle cx="167.38" cy="51.05" r="1.38"/><circle cx="169.62" cy="86.65" r="1.38"/><circle cx="171.85" cy="59.25" r="1.38"/><circle cx="174.09" cy="116.55" r="1.38"/><circle cx="176.32" cy="75.95" r="1.38"/><circle cx="178.56" cy="102.75" r="1.38"/><circle cx="180.79" cy="62.35" r="1.38"/><circle cx="183.03" cy="74.95" r="1.38"/><circle cx="185.26" cy="10.45" r="1.38"/><circle cx="187.5" cy="65.05" r="1.38"/><circle cx="189.73" cy="100.45" r="1.38"/><circle cx="191.97" cy="134.05" r="1.38"/><circle cx="194.2" cy="76.95" r="1.38"/><circle cx="196.44" cy="63.95" r="1.38"/><circle cx="198.67" cy="45.85" r="1.38"/><circle cx="200.91" cy="58.85" r="1.38"/><circle cx="203.14" cy="87.65" r="1.38"/><circle cx="205.38" cy="77.75" r="1.38"/><circle cx="207.61" cy="31.45" r="1.38"/><circle cx="209.85" cy="113.05" r="1.38"/><circle cx="212.08" cy="85.25" r="1.38"/><circle cx="214.32" cy="18.05" r="1.38"/><circle cx="216.55" cy="67.45" r="1.38"/><circle cx="218.79" cy="98.65" r="1.38"/><circle cx="221.02" cy="59.25" r="1.38"/><circle cx="223.26" cy="28.95" r="1.38"/><circle cx="225.49" cy="69.75" r="1.38"/><circle cx="227.73" cy="85.25" r="1.38"/><circle cx="229.96" cy="22.75" r="1.38"/><circle cx="232.2" cy="106.85" r="1.38"/></g>
<polyline points="10.93,58.55 13.17,103.85 15.4,91.55 17.64,106.55 19.88,46.85 22.11,65.95 24.34,33.45 26.58,68.45 28.81,50.95 31.05,99.95 33.28,58.15 35.52,39.55 37.75,89.45 39.99,75.65 42.22,36.55 44.46,95.25 46.69,85.95 48.93,77.75 51.16,99.75 53.4,59.15 55.63,106.95 57.87,56.65 60.1,67.45 62.34,100.95 64.58,83.85 66.81,64.85 69.05,76.65 71.28,103.85 73.52,57.75 75.75,96.25 77.98,73.55 80.22,105.95 82.45,20.45 84.69,76.65 86.92,54.05 89.16,86.35 91.39,27.25 93.63,49.85 95.86,99.75 98.1,89.05 100.33,46.15 102.57,80.85 104.8,76.65 107.04,107.55 109.27,76.65 111.51,96.65 113.74,72.95 115.98,73.55 118.22,52.35 120.45,98.35 122.69,84.95 124.92,57.55 127.16,41.65 129.39,75.05 131.62,95.85 133.86,75.25 136.09,113.15 138.33,59.15 140.56,38.15 142.8,66.35 145.03,51.35 147.27,91.15 149.5,80.85 151.74,84.15 153.97,34.45 156.21,91.15 158.44,69.05 160.68,36.05 162.91,77.95 165.15,73.15 167.38,79.35 169.62,58.75 171.85,70.55 174.09,103.45 176.32,61.25 178.56,101.45 180.79,68.45 183.03,46.85 185.26,17.95 187.5,74.65 189.73,92.55 191.97,99.75 194.2,73.15 196.44,46.35 198.67,51.55 200.91,61.65 203.14,79.75 205.38,76.05 207.61,46.35 209.85,113.75 212.08,92.15 214.32,17.95 216.55,56.05 218.79,115.25 221.02,50.55 223.26,31.35 225.49,73.15 227.73,92.15 229.96,62.65 232.2,98.35" fill="none" stroke="#ff7f0e" stroke-width="0.74" stroke-linejoin="round"/>
<g fill="#ff7f0e" fill-opacity="0.1" stroke="#ff7f0e" stroke-width="0.6" stroke-opacity="0.75"><circle cx="10.93" cy="58.55" r="1.7"/><circle cx="13.17" cy="103.85" r="1.7"/><circle cx="15.4" cy="91.55" r="1.7"/><circle cx="17.64" cy="106.55" r="1.7"/><circle cx="19.88" cy="46.85" r="1.7"/><circle cx="22.11" cy="65.95" r="1.7"/><circle cx="24.34" cy="33.45" r="1.7"/><circle cx="26.58" cy="68.45" r="1.7"/><circle cx="28.81" cy="50.95" r="1.7"/><circle cx="31.05" cy="99.95" r="1.7"/><circle cx="33.28" cy="58.15" r="1.7"/><circle cx="35.52" cy="39.55" r="1.7"/><circle cx="37.75" cy="89.45" r="1.7"/><circle cx="39.99" cy="75.65" r="1.7"/><circle cx="42.22" cy="36.55" r="1.7"/><circle cx="44.46" cy="95.25" r="1.7"/><circle cx="46.69" cy="85.95" r="1.7"/><circle cx="48.93" cy="77.75" r="1.7"/><circle cx="51.16" cy="99.75" r="1.7"/><circle cx="53.4" cy="59.15" r="1.7"/><circle cx="55.63" cy="106.95" r="1.7"/><circle cx="57.87" cy="56.65" r="1.7"/><circle cx="60.1" cy="67.45" r="1.7"/><circle cx="62.34" cy="100.95" r="1.7"/><circle cx="64.58" cy="83.85" r="1.7"/><circle cx="66.81" cy="64.85" r="1.7"/><circle cx="69.05" cy="76.65" r="1.7"/><circle cx="71.28" cy="103.85" r="1.7"/><circle cx="73.52" cy="57.75" r="1.7"/><circle cx="75.75" cy="96.25" r="1.7"/><circle cx="77.98" cy="73.55" r="1.7"/><circle cx="80.22" cy="105.95" r="1.7"/><circle cx="82.45" cy="20.45" r="1.7"/><circle cx="84.69" cy="76.65" r="1.7"/><circle cx="86.92" cy="54.05" r="1.7"/><circle cx="89.16" cy="86.35" r="1.7"/><circle cx="91.39" cy="27.25" r="1.7"/><circle cx="93.63" cy="49.85" r="1.7"/><circle cx="95.86" cy="99.75" r="1.7"/><circle cx="98.1" cy="89.05" r="1.7"/><circle cx="100.33" cy="46.15" r="1.7"/><circle cx="102.57" cy="80.85" r="1.7"/><circle cx="104.8" cy="76.65" r="1.7"/><circle cx="107.04" cy="107.55" r="1.7"/><circle cx="109.27" cy="76.65" r="1.7"/><circle cx="111.51" cy="96.65" r="1.7"/><circle cx="113.74" cy="72.95" r="1.7"/><circle cx="115.98" cy="73.55" r="1.7"/><circle cx="118.22" cy="52.35" r="1.7"/><circle cx="120.45" cy="98.35" r="1.7"/><circle cx="122.69" cy="84.95" r="1.7"/><circle cx="124.92" cy="57.55" r="1.7"/><circle cx="127.16" cy="41.65" r="1.7"/><circle cx="129.39" cy="75.05" r="1.7"/><circle cx="131.62" cy="95.85" r="1.7"/><circle cx="133.86" cy="75.25" r="1.7"/><circle cx="136.09" cy="113.15" r="1.7"/><circle cx="138.33" cy="59.15" r="1.7"/><circle cx="140.56" cy="38.15" r="1.7"/><circle cx="142.8" cy="66.35" r="1.7"/><circle cx="145.03" cy="51.35" r="1.7"/><circle cx="147.27" cy="91.15" r="1.7"/><circle cx="149.5" cy="80.85" r="1.7"/><circle cx="151.74" cy="84.15" r="1.7"/><circle cx="153.97" cy="34.45" r="1.7"/><circle cx="156.21" cy="91.15" r="1.7"/><circle cx="158.44" cy="69.05" r="1.7"/><circle cx="160.68" cy="36.05" r="1.7"/><circle cx="162.91" cy="77.95" r="1.7"/><circle cx="165.15" cy="73.15" r="1.7"/><circle cx="167.38" cy="79.35" r="1.7"/><circle cx="169.62" cy="58.75" r="1.7"/><circle cx="171.85" cy="70.55" r="1.7"/><circle cx="174.09" cy="103.45" r="1.7"/><circle cx="176.32" cy="61.25" r="1.7"/><circle cx="178.56" cy="101.45" r="1.7"/><circle cx="180.79" cy="68.45" r="1.7"/><circle cx="183.03" cy="46.85" r="1.7"/><circle cx="185.26" cy="17.95" r="1.7"/><circle cx="187.5" cy="74.65" r="1.7"/><circle cx="189.73" cy="92.55" r="1.7"/><circle cx="191.97" cy="99.75" r="1.7"/><circle cx="194.2" cy="73.15" r="1.7"/><circle cx="196.44" cy="46.35" r="1.7"/><circle cx="198.67" cy="51.55" r="1.7"/><circle cx="200.91" cy="61.65" r="1.7"/><circle cx="203.14" cy="79.75" r="1.7"/><circle cx="205.38" cy="76.05" r="1.7"/><circle cx="207.61" cy="46.35" r="1.7"/><circle cx="209.85" cy="113.75" r="1.7"/><circle cx="212.08" cy="92.15" r="1.7"/><circle cx="214.32" cy="17.95" r="1.7"/><circle cx="216.55" cy="56.05" r="1.7"/><circle cx="218.79" cy="115.25" r="1.7"/><circle cx="221.02" cy="50.55" r="1.7"/><circle cx="223.26" cy="31.35" r="1.7"/><circle cx="225.49" cy="73.15" r="1.7"/><circle cx="227.73" cy="92.15" r="1.7"/><circle cx="229.96" cy="62.65" r="1.7"/><circle cx="232.2" cy="98.35" r="1.7"/></g>
<text class="c" x="117.3" y="166.95" text-anchor="middle">(d) OHE</text>
</g>
<g transform="translate(23.1,370.85)">
<rect x="0" y="0" width="243.55" height="140.4" fill="#fff" stroke="#9a9a9a" stroke-width="1"/>
<path d="M8.7 140.4v1.6M53.4 140.4v1.6M98.1 140.4v1.6M142.8 140.4v1.6M187.5 140.4v1.6M232.2 140.4v1.6M0 115.85h-1.6M0 90.9h-1.6M0 65.95h-1.6M0 41h-1.6M0 16.05h-1.6" stroke="#666" stroke-width="0.5" fill="none"/>
<text class="t" x="8.7" y="147.05" text-anchor="middle">0</text>
<text class="t" x="53.4" y="147.05" text-anchor="middle">20</text>
<text class="t" x="98.1" y="147.05" text-anchor="middle">40</text>
<text class="t" x="142.8" y="147.05" text-anchor="middle">60</text>
<text class="t" x="187.5" y="147.05" text-anchor="middle">80</text>
<text class="t" x="232.2" y="147.05" text-anchor="middle">100</text>
<text class="t" x="-2.3" y="117.85" text-anchor="end">100</text>
<text class="t" x="-2.3" y="92.9" text-anchor="end">200</text>
<text class="t" x="-2.3" y="67.95" text-anchor="end">300</text>
<text class="t" x="-2.3" y="43" text-anchor="end">400</text>
<text class="t" x="-2.3" y="18.05" text-anchor="end">500</text>
<text class="l" x="118.8" y="152.35" text-anchor="middle">Index</text>
<text class="l" transform="translate(-16.2,72.5) rotate(-90)" text-anchor="middle">Monthly Revenue</text>
<polyline points="10.93,44.65 13.17,109.65 15.4,102.05 17.64,105.75 19.88,25.55 22.11,55.85 24.34,6.15 26.58,73.85 28.81,54.05 31.05,84.45 33.28,49.25 35.52,34.95 37.75,107.95 39.99,60.65 42.22,41.15 44.46,85.55 46.69,85.55 48.93,63.95 51.16,109.05 53.4,63.55 55.63,106.45 57.87,75.45 60.1,64.65 62.34,89.25 64.58,85.95 66.81,59.55 69.05,76.45 71.28,130.55 73.52,40.25 75.75,111.75 77.98,82.55 80.22,100.05 82.45,19.25 84.69,65.05 86.92,63.95 89.16,79.45 91.39,47.05 93.63,59.85 95.86,92.45 98.1,87.65 100.33,67.65 102.57,55.35 104.8,88.05 107.04,105.15 109.27,73.25 111.51,107.65 113.74,70.15 115.98,75.35 118.22,52.05 120.45,85.65 122.69,101.45 124.92,52.65 127.16,64.65 129.39,75.95 131.62,85.25 133.86,93.45 136.09,105.65 138.33,62.55 140.56,41.35 142.8,68.15 145.03,36.55 147.27,86.65 149.5,79.45 151.74,81.55 153.97,25.85 156.21,71.55 158.44,83.25 160.68,41.95 162.91,102.75 165.15,64.45 167.38,51.05 169.62,86.65 171.85,59.25 174.09,116.55 176.32,75.95 178.56,102.75 180.79,62.35 183.03,74.95 185.26,10.45 187.5,65.05 189.73,100.45 191.97,134.05 194.2,76.95 196.44,63.95 198.67,45.85 200.91,58.85 203.14,87.65 205.38,77.75 207.61,31.45 209.85,113.05 212.08,85.25 214.32,18.05 216.55,67.45 218.79,98.65 221.02,59.25 223.26,28.95 225.49,69.75 227.73,85.25 229.96,22.75 232.2,106.85" fill="none" stroke="#1f77b4" stroke-width="0.74" stroke-linejoin="round"/>
<g fill="#1f77b4"><circle cx="10.93" cy="44.65" r="1.38"/><circle cx="13.17" cy="109.65" r="1.38"/><circle cx="15.4" cy="102.05" r="1.38"/><circle cx="17.64" cy="105.75" r="1.38"/><circle cx="19.88" cy="25.55" r="1.38"/><circle cx="22.11" cy="55.85" r="1.38"/><circle cx="24.34" cy="6.15" r="1.38"/><circle cx="26.58" cy="73.85" r="1.38"/><circle cx="28.81" cy="54.05" r="1.38"/><circle cx="31.05" cy="84.45" r="1.38"/><circle cx="33.28" cy="49.25" r="1.38"/><circle cx="35.52" cy="34.95" r="1.38"/><circle cx="37.75" cy="107.95" r="1.38"/><circle cx="39.99" cy="60.65" r="1.38"/><circle cx="42.22" cy="41.15" r="1.38"/><circle cx="44.46" cy="85.55" r="1.38"/><circle cx="46.69" cy="85.55" r="1.38"/><circle cx="48.93" cy="63.95" r="1.38"/><circle cx="51.16" cy="109.05" r="1.38"/><circle cx="53.4" cy="63.55" r="1.38"/><circle cx="55.63" cy="106.45" r="1.38"/><circle cx="57.87" cy="75.45" r="1.38"/><circle cx="60.1" cy="64.65" r="1.38"/><circle cx="62.34" cy="89.25" r="1.38"/><circle cx="64.58" cy="85.95" r="1.38"/><circle cx="66.81" cy="59.55" r="1.38"/><circle cx="69.05" cy="76.45" r="1.38"/><circle cx="71.28" cy="130.55" r="1.38"/><circle cx="73.52" cy="40.25" r="1.38"/><circle cx="75.75" cy="111.75" r="1.38"/><circle cx="77.98" cy="82.55" r="1.38"/><circle cx="80.22" cy="100.05" r="1.38"/><circle cx="82.45" cy="19.25" r="1.38"/><circle cx="84.69" cy="65.05" r="1.38"/><circle cx="86.92" cy="63.95" r="1.38"/><circle cx="89.16" cy="79.45" r="1.38"/><circle cx="91.39" cy="47.05" r="1.38"/><circle cx="93.63" cy="59.85" r="1.38"/><circle cx="95.86" cy="92.45" r="1.38"/><circle cx="98.1" cy="87.65" r="1.38"/><circle cx="100.33" cy="67.65" r="1.38"/><circle cx="102.57" cy="55.35" r="1.38"/><circle cx="104.8" cy="88.05" r="1.38"/><circle cx="107.04" cy="105.15" r="1.38"/><circle cx="109.27" cy="73.25" r="1.38"/><circle cx="111.51" cy="107.65" r="1.38"/><circle cx="113.74" cy="70.15" r="1.38"/><circle cx="115.98" cy="75.35" r="1.38"/><circle cx="118.22" cy="52.05" r="1.38"/><circle cx="120.45" cy="85.65" r="1.38"/><circle cx="122.69" cy="101.45" r="1.38"/><circle cx="124.92" cy="52.65" r="1.38"/><circle cx="127.16" cy="64.65" r="1.38"/><circle cx="129.39" cy="75.95" r="1.38"/><circle cx="131.62" cy="85.25" r="1.38"/><circle cx="133.86" cy="93.45" r="1.38"/><circle cx="136.09" cy="105.65" r="1.38"/><circle cx="138.33" cy="62.55" r="1.38"/><circle cx="140.56" cy="41.35" r="1.38"/><circle cx="142.8" cy="68.15" r="1.38"/><circle cx="145.03" cy="36.55" r="1.38"/><circle cx="147.27" cy="86.65" r="1.38"/><circle cx="149.5" cy="79.45" r="1.38"/><circle cx="151.74" cy="81.55" r="1.38"/><circle cx="153.97" cy="25.85" r="1.38"/><circle cx="156.21" cy="71.55" r="1.38"/><circle cx="158.44" cy="83.25" r="1.38"/><circle cx="160.68" cy="41.95" r="1.38"/><circle cx="162.91" cy="102.75" r="1.38"/><circle cx="165.15" cy="64.45" r="1.38"/><circle cx="167.38" cy="51.05" r="1.38"/><circle cx="169.62" cy="86.65" r="1.38"/><circle cx="171.85" cy="59.25" r="1.38"/><circle cx="174.09" cy="116.55" r="1.38"/><circle cx="176.32" cy="75.95" r="1.38"/><circle cx="178.56" cy="102.75" r="1.38"/><circle cx="180.79" cy="62.35" r="1.38"/><circle cx="183.03" cy="74.95" r="1.38"/><circle cx="185.26" cy="10.45" r="1.38"/><circle cx="187.5" cy="65.05" r="1.38"/><circle cx="189.73" cy="100.45" r="1.38"/><circle cx="191.97" cy="134.05" r="1.38"/><circle cx="194.2" cy="76.95" r="1.38"/><circle cx="196.44" cy="63.95" r="1.38"/><circle cx="198.67" cy="45.85" r="1.38"/><circle cx="200.91" cy="58.85" r="1.38"/><circle cx="203.14" cy="87.65" r="1.38"/><circle cx="205.38" cy="77.75" r="1.38"/><circle cx="207.61" cy="31.45" r="1.38"/><circle cx="209.85" cy="113.05" r="1.38"/><circle cx="212.08" cy="85.25" r="1.38"/><circle cx="214.32" cy="18.05" r="1.38"/><circle cx="216.55" cy="67.45" r="1.38"/><circle cx="218.79" cy="98.65" r="1.38"/><circle cx="221.02" cy="59.25" r="1.38"/><circle cx="223.26" cy="28.95" r="1.38"/><circle cx="225.49" cy="69.75" r="1.38"/><circle cx="227.73" cy="85.25" r="1.38"/><circle cx="229.96" cy="22.75" r="1.38"/><circle cx="232.2" cy="106.85" r="1.38"/></g>
<polyline points="10.93,54.85 13.17,108.45 15.4,90.95 17.64,104.35 19.88,47.25 22.11,63.05 24.34,27.65 26.58,70.35 28.81,41.85 31.05,94.45 33.28,58.95 35.52,40.05 37.75,87.15 39.99,72.35 42.22,41.85 44.46,93.55 46.69,83.65 48.93,81.65 51.16,96.05 53.4,57.95 55.63,106.35 57.87,62.05 60.1,68.25 62.34,96.45 64.58,87.15 66.81,67.25 69.05,76.45 71.28,102.85 73.52,58.35 75.75,96.05 77.98,72.95 80.22,106.95 82.45,22.95 84.69,75.45 86.92,56.95 89.16,95.65 91.39,28.05 93.63,41.85 95.86,102.25 98.1,87.85 100.33,48.65 102.57,85.75 104.8,78.55 107.04,104.75 109.27,76.45 111.51,98.15 113.74,74.45 115.98,70.35 118.22,51.75 120.45,96.45 122.69,86.75 124.92,61.65 127.16,41.45 129.39,69.25 131.62,93.55 133.86,75.45 136.09,112.15 138.33,58.35 140.56,36.35 142.8,64.15 145.03,51.75 147.27,91.55 149.5,80.65 151.74,84.15 153.97,30.15 156.21,91.15 158.44,70.35 160.68,33.85 162.91,81.25 165.15,69.05 167.38,79.55 169.62,58.35 171.85,67.25 174.09,107.85 176.32,62.05 178.56,99.75 180.79,68.25 183.03,48.65 185.26,18.35 187.5,74.45 189.73,92.95 191.97,99.15 194.2,75.05 196.44,47.65 198.67,53.85 200.91,58.35 203.14,76.45 205.38,76.45 207.61,43.55 209.85,115.05 212.08,91.95 214.32,17.35 216.55,58.95 218.79,111.95 221.02,51.75 223.26,27.65 225.49,68.25 227.73,89.25 229.96,68.25 232.2,92.35" fill="none" stroke="#ff7f0e" stroke-width="0.74" stroke-linejoin="round"/>
<g fill="#ff7f0e" fill-opacity="0.1" stroke="#ff7f0e" stroke-width="0.6" stroke-opacity="0.75"><circle cx="10.93" cy="54.85" r="1.7"/><circle cx="13.17" cy="108.45" r="1.7"/><circle cx="15.4" cy="90.95" r="1.7"/><circle cx="17.64" cy="104.35" r="1.7"/><circle cx="19.88" cy="47.25" r="1.7"/><circle cx="22.11" cy="63.05" r="1.7"/><circle cx="24.34" cy="27.65" r="1.7"/><circle cx="26.58" cy="70.35" r="1.7"/><circle cx="28.81" cy="41.85" r="1.7"/><circle cx="31.05" cy="94.45" r="1.7"/><circle cx="33.28" cy="58.95" r="1.7"/><circle cx="35.52" cy="40.05" r="1.7"/><circle cx="37.75" cy="87.15" r="1.7"/><circle cx="39.99" cy="72.35" r="1.7"/><circle cx="42.22" cy="41.85" r="1.7"/><circle cx="44.46" cy="93.55" r="1.7"/><circle cx="46.69" cy="83.65" r="1.7"/><circle cx="48.93" cy="81.65" r="1.7"/><circle cx="51.16" cy="96.05" r="1.7"/><circle cx="53.4" cy="57.95" r="1.7"/><circle cx="55.63" cy="106.35" r="1.7"/><circle cx="57.87" cy="62.05" r="1.7"/><circle cx="60.1" cy="68.25" r="1.7"/><circle cx="62.34" cy="96.45" r="1.7"/><circle cx="64.58" cy="87.15" r="1.7"/><circle cx="66.81" cy="67.25" r="1.7"/><circle cx="69.05" cy="76.45" r="1.7"/><circle cx="71.28" cy="102.85" r="1.7"/><circle cx="73.52" cy="58.35" r="1.7"/><circle cx="75.75" cy="96.05" r="1.7"/><circle cx="77.98" cy="72.95" r="1.7"/><circle cx="80.22" cy="106.95" r="1.7"/><circle cx="82.45" cy="22.95" r="1.7"/><circle cx="84.69" cy="75.45" r="1.7"/><circle cx="86.92" cy="56.95" r="1.7"/><circle cx="89.16" cy="95.65" r="1.7"/><circle cx="91.39" cy="28.05" r="1.7"/><circle cx="93.63" cy="41.85" r="1.7"/><circle cx="95.86" cy="102.25" r="1.7"/><circle cx="98.1" cy="87.85" r="1.7"/><circle cx="100.33" cy="48.65" r="1.7"/><circle cx="102.57" cy="85.75" r="1.7"/><circle cx="104.8" cy="78.55" r="1.7"/><circle cx="107.04" cy="104.75" r="1.7"/><circle cx="109.27" cy="76.45" r="1.7"/><circle cx="111.51" cy="98.15" r="1.7"/><circle cx="113.74" cy="74.45" r="1.7"/><circle cx="115.98" cy="70.35" r="1.7"/><circle cx="118.22" cy="51.75" r="1.7"/><circle cx="120.45" cy="96.45" r="1.7"/><circle cx="122.69" cy="86.75" r="1.7"/><circle cx="124.92" cy="61.65" r="1.7"/><circle cx="127.16" cy="41.45" r="1.7"/><circle cx="129.39" cy="69.25" r="1.7"/><circle cx="131.62" cy="93.55" r="1.7"/><circle cx="133.86" cy="75.45" r="1.7"/><circle cx="136.09" cy="112.15" r="1.7"/><circle cx="138.33" cy="58.35" r="1.7"/><circle cx="140.56" cy="36.35" r="1.7"/><circle cx="142.8" cy="64.15" r="1.7"/><circle cx="145.03" cy="51.75" r="1.7"/><circle cx="147.27" cy="91.55" r="1.7"/><circle cx="149.5" cy="80.65" r="1.7"/><circle cx="151.74" cy="84.15" r="1.7"/><circle cx="153.97" cy="30.15" r="1.7"/><circle cx="156.21" cy="91.15" r="1.7"/><circle cx="158.44" cy="70.35" r="1.7"/><circle cx="160.68" cy="33.85" r="1.7"/><circle cx="162.91" cy="81.25" r="1.7"/><circle cx="165.15" cy="69.05" r="1.7"/><circle cx="167.38" cy="79.55" r="1.7"/><circle cx="169.62" cy="58.35" r="1.7"/><circle cx="171.85" cy="67.25" r="1.7"/><circle cx="174.09" cy="107.85" r="1.7"/><circle cx="176.32" cy="62.05" r="1.7"/><circle cx="178.56" cy="99.75" r="1.7"/><circle cx="180.79" cy="68.25" r="1.7"/><circle cx="183.03" cy="48.65" r="1.7"/><circle cx="185.26" cy="18.35" r="1.7"/><circle cx="187.5" cy="74.45" r="1.7"/><circle cx="189.73" cy="92.95" r="1.7"/><circle cx="191.97" cy="99.15" r="1.7"/><circle cx="194.2" cy="75.05" r="1.7"/><circle cx="196.44" cy="47.65" r="1.7"/><circle cx="198.67" cy="53.85" r="1.7"/><circle cx="200.91" cy="58.35" r="1.7"/><circle cx="203.14" cy="76.45" r="1.7"/><circle cx="205.38" cy="76.45" r="1.7"/><circle cx="207.61" cy="43.55" r="1.7"/><circle cx="209.85" cy="115.05" r="1.7"/><circle cx="212.08" cy="91.95" r="1.7"/><circle cx="214.32" cy="17.35" r="1.7"/><circle cx="216.55" cy="58.95" r="1.7"/><circle cx="218.79" cy="111.95" r="1.7"/><circle cx="221.02" cy="51.75" r="1.7"/><circle cx="223.26" cy="27.65" r="1.7"/><circle cx="225.49" cy="68.25" r="1.7"/><circle cx="227.73" cy="89.25" r="1.7"/><circle cx="229.96" cy="68.25" r="1.7"/><circle cx="232.2" cy="92.35" r="1.7"/></g>
<text class="c" x="117.3" y="166.95" text-anchor="middle">(e) LE</text>
</g>
<g transform="translate(304.15,370.85)">
<rect x="0" y="0" width="243.55" height="140.4" fill="#fff" stroke="#9a9a9a" stroke-width="1"/>
<path d="M8.7 140.4v1.6M53.4 140.4v1.6M98.1 140.4v1.6M142.8 140.4v1.6M187.5 140.4v1.6M232.2 140.4v1.6M0 115.85h-1.6M0 90.9h-1.6M0 65.95h-1.6M0 41h-1.6M0 16.05h-1.6" stroke="#666" stroke-width="0.5" fill="none"/>
<text class="t" x="8.7" y="147.05" text-anchor="middle">0</text>
<text class="t" x="53.4" y="147.05" text-anchor="middle">20</text>
<text class="t" x="98.1" y="147.05" text-anchor="middle">40</text>
<text class="t" x="142.8" y="147.05" text-anchor="middle">60</text>
<text class="t" x="187.5" y="147.05" text-anchor="middle">80</text>
<text class="t" x="232.2" y="147.05" text-anchor="middle">100</text>
<text class="t" x="-2.3" y="117.85" text-anchor="end">100</text>
<text class="t" x="-2.3" y="92.9" text-anchor="end">200</text>
<text class="t" x="-2.3" y="67.95" text-anchor="end">300</text>
<text class="t" x="-2.3" y="43" text-anchor="end">400</text>
<text class="t" x="-2.3" y="18.05" text-anchor="end">500</text>
<text class="l" x="118.8" y="152.35" text-anchor="middle">Index</text>
<text class="l" transform="translate(-16.2,72.5) rotate(-90)" text-anchor="middle">Monthly Revenue</text>
<polyline points="10.93,44.65 13.17,109.65 15.4,102.05 17.64,105.75 19.88,25.55 22.11,55.85 24.34,6.15 26.58,73.85 28.81,54.05 31.05,84.45 33.28,49.25 35.52,34.95 37.75,107.95 39.99,60.65 42.22,41.15 44.46,85.55 46.69,85.55 48.93,63.95 51.16,109.05 53.4,63.55 55.63,106.45 57.87,75.45 60.1,64.65 62.34,89.25 64.58,85.95 66.81,59.55 69.05,76.45 71.28,130.55 73.52,40.25 75.75,111.75 77.98,82.55 80.22,100.05 82.45,19.25 84.69,65.05 86.92,63.95 89.16,79.45 91.39,47.05 93.63,59.85 95.86,92.45 98.1,87.65 100.33,67.65 102.57,55.35 104.8,88.05 107.04,105.15 109.27,73.25 111.51,107.65 113.74,70.15 115.98,75.35 118.22,52.05 120.45,85.65 122.69,101.45 124.92,52.65 127.16,64.65 129.39,75.95 131.62,85.25 133.86,93.45 136.09,105.65 138.33,62.55 140.56,41.35 142.8,68.15 145.03,36.55 147.27,86.65 149.5,79.45 151.74,81.55 153.97,25.85 156.21,71.55 158.44,83.25 160.68,41.95 162.91,102.75 165.15,64.45 167.38,51.05 169.62,86.65 171.85,59.25 174.09,116.55 176.32,75.95 178.56,102.75 180.79,62.35 183.03,74.95 185.26,10.45 187.5,65.05 189.73,100.45 191.97,134.05 194.2,76.95 196.44,63.95 198.67,45.85 200.91,58.85 203.14,87.65 205.38,77.75 207.61,31.45 209.85,113.05 212.08,85.25 214.32,18.05 216.55,67.45 218.79,98.65 221.02,59.25 223.26,28.95 225.49,69.75 227.73,85.25 229.96,22.75 232.2,106.85" fill="none" stroke="#1f77b4" stroke-width="0.74" stroke-linejoin="round"/>
<g fill="#1f77b4"><circle cx="10.93" cy="44.65" r="1.38"/><circle cx="13.17" cy="109.65" r="1.38"/><circle cx="15.4" cy="102.05" r="1.38"/><circle cx="17.64" cy="105.75" r="1.38"/><circle cx="19.88" cy="25.55" r="1.38"/><circle cx="22.11" cy="55.85" r="1.38"/><circle cx="24.34" cy="6.15" r="1.38"/><circle cx="26.58" cy="73.85" r="1.38"/><circle cx="28.81" cy="54.05" r="1.38"/><circle cx="31.05" cy="84.45" r="1.38"/><circle cx="33.28" cy="49.25" r="1.38"/><circle cx="35.52" cy="34.95" r="1.38"/><circle cx="37.75" cy="107.95" r="1.38"/><circle cx="39.99" cy="60.65" r="1.38"/><circle cx="42.22" cy="41.15" r="1.38"/><circle cx="44.46" cy="85.55" r="1.38"/><circle cx="46.69" cy="85.55" r="1.38"/><circle cx="48.93" cy="63.95" r="1.38"/><circle cx="51.16" cy="109.05" r="1.38"/><circle cx="53.4" cy="63.55" r="1.38"/><circle cx="55.63" cy="106.45" r="1.38"/><circle cx="57.87" cy="75.45" r="1.38"/><circle cx="60.1" cy="64.65" r="1.38"/><circle cx="62.34" cy="89.25" r="1.38"/><circle cx="64.58" cy="85.95" r="1.38"/><circle cx="66.81" cy="59.55" r="1.38"/><circle cx="69.05" cy="76.45" r="1.38"/><circle cx="71.28" cy="130.55" r="1.38"/><circle cx="73.52" cy="40.25" r="1.38"/><circle cx="75.75" cy="111.75" r="1.38"/><circle cx="77.98" cy="82.55" r="1.38"/><circle cx="80.22" cy="100.05" r="1.38"/><circle cx="82.45" cy="19.25" r="1.38"/><circle cx="84.69" cy="65.05" r="1.38"/><circle cx="86.92" cy="63.95" r="1.38"/><circle cx="89.16" cy="79.45" r="1.38"/><circle cx="91.39" cy="47.05" r="1.38"/><circle cx="93.63" cy="59.85" r="1.38"/><circle cx="95.86" cy="92.45" r="1.38"/><circle cx="98.1" cy="87.65" r="1.38"/><circle cx="100.33" cy="67.65" r="1.38"/><circle cx="102.57" cy="55.35" r="1.38"/><circle cx="104.8" cy="88.05" r="1.38"/><circle cx="107.04" cy="105.15" r="1.38"/><circle cx="109.27" cy="73.25" r="1.38"/><circle cx="111.51" cy="107.65" r="1.38"/><circle cx="113.74" cy="70.15" r="1.38"/><circle cx="115.98" cy="75.35" r="1.38"/><circle cx="118.22" cy="52.05" r="1.38"/><circle cx="120.45" cy="85.65" r="1.38"/><circle cx="122.69" cy="101.45" r="1.38"/><circle cx="124.92" cy="52.65" r="1.38"/><circle cx="127.16" cy="64.65" r="1.38"/><circle cx="129.39" cy="75.95" r="1.38"/><circle cx="131.62" cy="85.25" r="1.38"/><circle cx="133.86" cy="93.45" r="1.38"/><circle cx="136.09" cy="105.65" r="1.38"/><circle cx="138.33" cy="62.55" r="1.38"/><circle cx="140.56" cy="41.35" r="1.38"/><circle cx="142.8" cy="68.15" r="1.38"/><circle cx="145.03" cy="36.55" r="1.38"/><circle cx="147.27" cy="86.65" r="1.38"/><circle cx="149.5" cy="79.45" r="1.38"/><circle cx="151.74" cy="81.55" r="1.38"/><circle cx="153.97" cy="25.85" r="1.38"/><circle cx="156.21" cy="71.55" r="1.38"/><circle cx="158.44" cy="83.25" r="1.38"/><circle cx="160.68" cy="41.95" r="1.38"/><circle cx="162.91" cy="102.75" r="1.38"/><circle cx="165.15" cy="64.45" r="1.38"/><circle cx="167.38" cy="51.05" r="1.38"/><circle cx="169.62" cy="86.65" r="1.38"/><circle cx="171.85" cy="59.25" r="1.38"/><circle cx="174.09" cy="116.55" r="1.38"/><circle cx="176.32" cy="75.95" r="1.38"/><circle cx="178.56" cy="102.75" r="1.38"/><circle cx="180.79" cy="62.35" r="1.38"/><circle cx="183.03" cy="74.95" r="1.38"/><circle cx="185.26" cy="10.45" r="1.38"/><circle cx="187.5" cy="65.05" r="1.38"/><circle cx="189.73" cy="100.45" r="1.38"/><circle cx="191.97" cy="134.05" r="1.38"/><circle cx="194.2" cy="76.95" r="1.38"/><circle cx="196.44" cy="63.95" r="1.38"/><circle cx="198.67" cy="45.85" r="1.38"/><circle cx="200.91" cy="58.85" r="1.38"/><circle cx="203.14" cy="87.65" r="1.38"/><circle cx="205.38" cy="77.75" r="1.38"/><circle cx="207.61" cy="31.45" r="1.38"/><circle cx="209.85" cy="113.05" r="1.38"/><circle cx="212.08" cy="85.25" r="1.38"/><circle cx="214.32" cy="18.05" r="1.38"/><circle cx="216.55" cy="67.45" r="1.38"/><circle cx="218.79" cy="98.65" r="1.38"/><circle cx="221.02" cy="59.25" r="1.38"/><circle cx="223.26" cy="28.95" r="1.38"/><circle cx="225.49" cy="69.75" r="1.38"/><circle cx="227.73" cy="85.25" r="1.38"/><circle cx="229.96" cy="22.75" r="1.38"/><circle cx="232.2" cy="106.85" r="1.38"/></g>
<polyline points="10.93,53.15 13.17,99.15 15.4,87.15 17.64,99.15 19.88,47.65 22.11,64.15 24.34,34.85 26.58,70.35 28.81,50.75 31.05,99.55 33.28,58.95 35.52,38.35 37.75,90.95 39.99,78.55 42.22,39.85 44.46,96.65 46.69,83.65 48.93,75.45 51.16,99.55 53.4,57.95 55.63,103.65 57.87,53.85 60.1,64.75 62.34,101.25 64.58,81.65 66.81,69.25 69.05,76.45 71.28,98.75 73.52,54.85 75.75,93.55 77.98,72.35 80.22,105.55 82.45,24.95 84.69,78.85 86.92,56.95 89.16,84.75 91.39,30.15 93.63,47.65 95.86,103.25 98.1,88.85 100.33,51.15 102.57,76.45 104.8,81.65 107.04,106.95 109.27,72.35 111.51,99.15 113.74,74.05 115.98,72.35 118.22,53.85 120.45,97.05 122.69,88.85 124.92,58.95 127.16,47.05 129.39,77.55 131.62,91.95 133.86,72.95 136.09,114.65 138.33,63.05 140.56,41.45 142.8,63.05 145.03,51.15 147.27,91.55 149.5,84.25 151.74,80.05 153.97,34.55 156.21,98.15 158.44,70.05 160.68,36.35 162.91,74.45 165.15,69.25 167.38,70.35 169.62,62.65 171.85,68.25 174.09,109.45 176.32,62.05 178.56,99.15 180.79,67.25 183.03,45.55 185.26,23.55 187.5,78.15 189.73,90.95 191.97,104.35 194.2,74.45 196.44,49.65 198.67,51.75 200.91,58.95 203.14,79.55 205.38,76.45 207.61,46.65 209.85,120.15 212.08,88.85 214.32,23.55 216.55,52.75 218.79,115.65 221.02,51.75 223.26,37.95 225.49,72.35 227.73,98.15 229.96,63.05 232.2,99.15" fill="none" stroke="#ff7f0e" stroke-width="0.74" stroke-linejoin="round"/>
<g fill="#ff7f0e" fill-opacity="0.1" stroke="#ff7f0e" stroke-width="0.6" stroke-opacity="0.75"><circle cx="10.93" cy="53.15" r="1.7"/><circle cx="13.17" cy="99.15" r="1.7"/><circle cx="15.4" cy="87.15" r="1.7"/><circle cx="17.64" cy="99.15" r="1.7"/><circle cx="19.88" cy="47.65" r="1.7"/><circle cx="22.11" cy="64.15" r="1.7"/><circle cx="24.34" cy="34.85" r="1.7"/><circle cx="26.58" cy="70.35" r="1.7"/><circle cx="28.81" cy="50.75" r="1.7"/><circle cx="31.05" cy="99.55" r="1.7"/><circle cx="33.28" cy="58.95" r="1.7"/><circle cx="35.52" cy="38.35" r="1.7"/><circle cx="37.75" cy="90.95" r="1.7"/><circle cx="39.99" cy="78.55" r="1.7"/><circle cx="42.22" cy="39.85" r="1.7"/><circle cx="44.46" cy="96.65" r="1.7"/><circle cx="46.69" cy="83.65" r="1.7"/><circle cx="48.93" cy="75.45" r="1.7"/><circle cx="51.16" cy="99.55" r="1.7"/><circle cx="53.4" cy="57.95" r="1.7"/><circle cx="55.63" cy="103.65" r="1.7"/><circle cx="57.87" cy="53.85" r="1.7"/><circle cx="60.1" cy="64.75" r="1.7"/><circle cx="62.34" cy="101.25" r="1.7"/><circle cx="64.58" cy="81.65" r="1.7"/><circle cx="66.81" cy="69.25" r="1.7"/><circle cx="69.05" cy="76.45" r="1.7"/><circle cx="71.28" cy="98.75" r="1.7"/><circle cx="73.52" cy="54.85" r="1.7"/><circle cx="75.75" cy="93.55" r="1.7"/><circle cx="77.98" cy="72.35" r="1.7"/><circle cx="80.22" cy="105.55" r="1.7"/><circle cx="82.45" cy="24.95" r="1.7"/><circle cx="84.69" cy="78.85" r="1.7"/><circle cx="86.92" cy="56.95" r="1.7"/><circle cx="89.16" cy="84.75" r="1.7"/><circle cx="91.39" cy="30.15" r="1.7"/><circle cx="93.63" cy="47.65" r="1.7"/><circle cx="95.86" cy="103.25" r="1.7"/><circle cx="98.1" cy="88.85" r="1.7"/><circle cx="100.33" cy="51.15" r="1.7"/><circle cx="102.57" cy="76.45" r="1.7"/><circle cx="104.8" cy="81.65" r="1.7"/><circle cx="107.04" cy="106.95" r="1.7"/><circle cx="109.27" cy="72.35" r="1.7"/><circle cx="111.51" cy="99.15" r="1.7"/><circle cx="113.74" cy="74.05" r="1.7"/><circle cx="115.98" cy="72.35" r="1.7"/><circle cx="118.22" cy="53.85" r="1.7"/><circle cx="120.45" cy="97.05" r="1.7"/><circle cx="122.69" cy="88.85" r="1.7"/><circle cx="124.92" cy="58.95" r="1.7"/><circle cx="127.16" cy="47.05" r="1.7"/><circle cx="129.39" cy="77.55" r="1.7"/><circle cx="131.62" cy="91.95" r="1.7"/><circle cx="133.86" cy="72.95" r="1.7"/><circle cx="136.09" cy="114.65" r="1.7"/><circle cx="138.33" cy="63.05" r="1.7"/><circle cx="140.56" cy="41.45" r="1.7"/><circle cx="142.8" cy="63.05" r="1.7"/><circle cx="145.03" cy="51.15" r="1.7"/><circle cx="147.27" cy="91.55" r="1.7"/><circle cx="149.5" cy="84.25" r="1.7"/><circle cx="151.74" cy="80.05" r="1.7"/><circle cx="153.97" cy="34.55" r="1.7"/><circle cx="156.21" cy="98.15" r="1.7"/><circle cx="158.44" cy="70.05" r="1.7"/><circle cx="160.68" cy="36.35" r="1.7"/><circle cx="162.91" cy="74.45" r="1.7"/><circle cx="165.15" cy="69.25" r="1.7"/><circle cx="167.38" cy="70.35" r="1.7"/><circle cx="169.62" cy="62.65" r="1.7"/><circle cx="171.85" cy="68.25" r="1.7"/><circle cx="174.09" cy="109.45" r="1.7"/><circle cx="176.32" cy="62.05" r="1.7"/><circle cx="178.56" cy="99.15" r="1.7"/><circle cx="180.79" cy="67.25" r="1.7"/><circle cx="183.03" cy="45.55" r="1.7"/><circle cx="185.26" cy="23.55" r="1.7"/><circle cx="187.5" cy="78.15" r="1.7"/><circle cx="189.73" cy="90.95" r="1.7"/><circle cx="191.97" cy="104.35" r="1.7"/><circle cx="194.2" cy="74.45" r="1.7"/><circle cx="196.44" cy="49.65" r="1.7"/><circle cx="198.67" cy="51.75" r="1.7"/><circle cx="200.91" cy="58.95" r="1.7"/><circle cx="203.14" cy="79.55" r="1.7"/><circle cx="205.38" cy="76.45" r="1.7"/><circle cx="207.61" cy="46.65" r="1.7"/><circle cx="209.85" cy="120.15" r="1.7"/><circle cx="212.08" cy="88.85" r="1.7"/><circle cx="214.32" cy="23.55" r="1.7"/><circle cx="216.55" cy="52.75" r="1.7"/><circle cx="218.79" cy="115.65" r="1.7"/><circle cx="221.02" cy="51.75" r="1.7"/><circle cx="223.26" cy="37.95" r="1.7"/><circle cx="225.49" cy="72.35" r="1.7"/><circle cx="227.73" cy="98.15" r="1.7"/><circle cx="229.96" cy="63.05" r="1.7"/><circle cx="232.2" cy="99.15" r="1.7"/></g>
<text class="c" x="117.3" y="166.95" text-anchor="middle">(f) TE</text>
</g>
<g transform="translate(23.1,556.9)">
<rect x="0" y="0" width="243.55" height="140.4" fill="#fff" stroke="#9a9a9a" stroke-width="1"/>
<path d="M8.7 140.4v1.6M53.4 140.4v1.6M98.1 140.4v1.6M142.8 140.4v1.6M187.5 140.4v1.6M232.2 140.4v1.6M0 115.85h-1.6M0 90.9h-1.6M0 65.95h-1.6M0 41h-1.6M0 16.05h-1.6" stroke="#666" stroke-width="0.5" fill="none"/>
<text class="t" x="8.7" y="147.05" text-anchor="middle">0</text>
<text class="t" x="53.4" y="147.05" text-anchor="middle">20</text>
<text class="t" x="98.1" y="147.05" text-anchor="middle">40</text>
<text class="t" x="142.8" y="147.05" text-anchor="middle">60</text>
<text class="t" x="187.5" y="147.05" text-anchor="middle">80</text>
<text class="t" x="232.2" y="147.05" text-anchor="middle">100</text>
<text class="t" x="-2.3" y="117.85" text-anchor="end">100</text>
<text class="t" x="-2.3" y="92.9" text-anchor="end">200</text>
<text class="t" x="-2.3" y="67.95" text-anchor="end">300</text>
<text class="t" x="-2.3" y="43" text-anchor="end">400</text>
<text class="t" x="-2.3" y="18.05" text-anchor="end">500</text>
<text class="l" x="118.8" y="152.65" text-anchor="middle">Index</text>
<text class="l" transform="translate(-16.2,72.5) rotate(-90)" text-anchor="middle">Monthly Revenue</text>
<polyline points="10.93,44.65 13.17,109.65 15.4,102.05 17.64,105.75 19.88,25.55 22.11,55.85 24.34,6.15 26.58,73.85 28.81,54.05 31.05,84.45 33.28,49.25 35.52,34.95 37.75,107.95 39.99,60.65 42.22,41.15 44.46,85.55 46.69,85.55 48.93,63.95 51.16,109.05 53.4,63.55 55.63,106.45 57.87,75.45 60.1,64.65 62.34,89.25 64.58,85.95 66.81,59.55 69.05,76.45 71.28,130.55 73.52,40.25 75.75,111.75 77.98,82.55 80.22,100.05 82.45,19.25 84.69,65.05 86.92,63.95 89.16,79.45 91.39,47.05 93.63,59.85 95.86,92.45 98.1,87.65 100.33,67.65 102.57,55.35 104.8,88.05 107.04,105.15 109.27,73.25 111.51,107.65 113.74,70.15 115.98,75.35 118.22,52.05 120.45,85.65 122.69,101.45 124.92,52.65 127.16,64.65 129.39,75.95 131.62,85.25 133.86,93.45 136.09,105.65 138.33,62.55 140.56,41.35 142.8,68.15 145.03,36.55 147.27,86.65 149.5,79.45 151.74,81.55 153.97,25.85 156.21,71.55 158.44,83.25 160.68,41.95 162.91,102.75 165.15,64.45 167.38,51.05 169.62,86.65 171.85,59.25 174.09,116.55 176.32,75.95 178.56,102.75 180.79,62.35 183.03,74.95 185.26,10.45 187.5,65.05 189.73,100.45 191.97,134.05 194.2,76.95 196.44,63.95 198.67,45.85 200.91,58.85 203.14,87.65 205.38,77.75 207.61,31.45 209.85,113.05 212.08,85.25 214.32,18.05 216.55,67.45 218.79,98.65 221.02,59.25 223.26,28.95 225.49,69.75 227.73,85.25 229.96,22.75 232.2,106.85" fill="none" stroke="#1f77b4" stroke-width="0.74" stroke-linejoin="round"/>
<g fill="#1f77b4"><circle cx="10.93" cy="44.65" r="1.38"/><circle cx="13.17" cy="109.65" r="1.38"/><circle cx="15.4" cy="102.05" r="1.38"/><circle cx="17.64" cy="105.75" r="1.38"/><circle cx="19.88" cy="25.55" r="1.38"/><circle cx="22.11" cy="55.85" r="1.38"/><circle cx="24.34" cy="6.15" r="1.38"/><circle cx="26.58" cy="73.85" r="1.38"/><circle cx="28.81" cy="54.05" r="1.38"/><circle cx="31.05" cy="84.45" r="1.38"/><circle cx="33.28" cy="49.25" r="1.38"/><circle cx="35.52" cy="34.95" r="1.38"/><circle cx="37.75" cy="107.95" r="1.38"/><circle cx="39.99" cy="60.65" r="1.38"/><circle cx="42.22" cy="41.15" r="1.38"/><circle cx="44.46" cy="85.55" r="1.38"/><circle cx="46.69" cy="85.55" r="1.38"/><circle cx="48.93" cy="63.95" r="1.38"/><circle cx="51.16" cy="109.05" r="1.38"/><circle cx="53.4" cy="63.55" r="1.38"/><circle cx="55.63" cy="106.45" r="1.38"/><circle cx="57.87" cy="75.45" r="1.38"/><circle cx="60.1" cy="64.65" r="1.38"/><circle cx="62.34" cy="89.25" r="1.38"/><circle cx="64.58" cy="85.95" r="1.38"/><circle cx="66.81" cy="59.55" r="1.38"/><circle cx="69.05" cy="76.45" r="1.38"/><circle cx="71.28" cy="130.55" r="1.38"/><circle cx="73.52" cy="40.25" r="1.38"/><circle cx="75.75" cy="111.75" r="1.38"/><circle cx="77.98" cy="82.55" r="1.38"/><circle cx="80.22" cy="100.05" r="1.38"/><circle cx="82.45" cy="19.25" r="1.38"/><circle cx="84.69" cy="65.05" r="1.38"/><circle cx="86.92" cy="63.95" r="1.38"/><circle cx="89.16" cy="79.45" r="1.38"/><circle cx="91.39" cy="47.05" r="1.38"/><circle cx="93.63" cy="59.85" r="1.38"/><circle cx="95.86" cy="92.45" r="1.38"/><circle cx="98.1" cy="87.65" r="1.38"/><circle cx="100.33" cy="67.65" r="1.38"/><circle cx="102.57" cy="55.35" r="1.38"/><circle cx="104.8" cy="88.05" r="1.38"/><circle cx="107.04" cy="105.15" r="1.38"/><circle cx="109.27" cy="73.25" r="1.38"/><circle cx="111.51" cy="107.65" r="1.38"/><circle cx="113.74" cy="70.15" r="1.38"/><circle cx="115.98" cy="75.35" r="1.38"/><circle cx="118.22" cy="52.05" r="1.38"/><circle cx="120.45" cy="85.65" r="1.38"/><circle cx="122.69" cy="101.45" r="1.38"/><circle cx="124.92" cy="52.65" r="1.38"/><circle cx="127.16" cy="64.65" r="1.38"/><circle cx="129.39" cy="75.95" r="1.38"/><circle cx="131.62" cy="85.25" r="1.38"/><circle cx="133.86" cy="93.45" r="1.38"/><circle cx="136.09" cy="105.65" r="1.38"/><circle cx="138.33" cy="62.55" r="1.38"/><circle cx="140.56" cy="41.35" r="1.38"/><circle cx="142.8" cy="68.15" r="1.38"/><circle cx="145.03" cy="36.55" r="1.38"/><circle cx="147.27" cy="86.65" r="1.38"/><circle cx="149.5" cy="79.45" r="1.38"/><circle cx="151.74" cy="81.55" r="1.38"/><circle cx="153.97" cy="25.85" r="1.38"/><circle cx="156.21" cy="71.55" r="1.38"/><circle cx="158.44" cy="83.25" r="1.38"/><circle cx="160.68" cy="41.95" r="1.38"/><circle cx="162.91" cy="102.75" r="1.38"/><circle cx="165.15" cy="64.45" r="1.38"/><circle cx="167.38" cy="51.05" r="1.38"/><circle cx="169.62" cy="86.65" r="1.38"/><circle cx="171.85" cy="59.25" r="1.38"/><circle cx="174.09" cy="116.55" r="1.38"/><circle cx="176.32" cy="75.95" r="1.38"/><circle cx="178.56" cy="102.75" r="1.38"/><circle cx="180.79" cy="62.35" r="1.38"/><circle cx="183.03" cy="74.95" r="1.38"/><circle cx="185.26" cy="10.45" r="1.38"/><circle cx="187.5" cy="65.05" r="1.38"/><circle cx="189.73" cy="100.45" r="1.38"/><circle cx="191.97" cy="134.05" r="1.38"/><circle cx="194.2" cy="76.95" r="1.38"/><circle cx="196.44" cy="63.95" r="1.38"/><circle cx="198.67" cy="45.85" r="1.38"/><circle cx="200.91" cy="58.85" r="1.38"/><circle cx="203.14" cy="87.65" r="1.38"/><circle cx="205.38" cy="77.75" r="1.38"/><circle cx="207.61" cy="31.45" r="1.38"/><circle cx="209.85" cy="113.05" r="1.38"/><circle cx="212.08" cy="85.25" r="1.38"/><circle cx="214.32" cy="18.05" r="1.38"/><circle cx="216.55" cy="67.45" r="1.38"/><circle cx="218.79" cy="98.65" r="1.38"/><circle cx="221.02" cy="59.25" r="1.38"/><circle cx="223.26" cy="28.95" r="1.38"/><circle cx="225.49" cy="69.75" r="1.38"/><circle cx="227.73" cy="85.25" r="1.38"/><circle cx="229.96" cy="22.75" r="1.38"/><circle cx="232.2" cy="106.85" r="1.38"/></g>
<polyline points="10.93,55.2 13.17,104.3 15.4,91.9 17.64,106.3 19.88,46.6 22.11,66.2 24.34,30.1 26.58,66.2 28.81,45.1 31.05,94 33.28,57.3 35.52,39.8 37.75,89.9 39.99,77.1 42.22,40.8 44.46,92.5 46.69,85.7 48.93,74.4 51.16,96 53.4,60.6 55.63,103.3 57.87,55.9 60.1,68.2 62.34,95.6 64.58,82.6 66.81,63.7 69.05,77.1 71.28,105.3 73.52,56.5 75.75,95.6 77.98,74 80.22,103.9 82.45,24.5 84.69,76.5 86.92,55.9 89.16,85.1 91.39,26 93.63,49.7 95.86,98.7 98.1,84.7 100.33,52.8 102.57,79.6 104.8,75.4 107.04,109 109.27,74.4 111.51,97.1 113.74,75.4 115.98,71.3 118.22,52.1 120.45,98.1 122.69,86.8 124.92,57.3 127.16,48.6 129.39,75.4 131.62,95 133.86,70.9 136.09,111.9 138.33,62 140.56,38.3 142.8,68.2 145.03,54.8 147.27,91.9 149.5,85.1 151.74,83.7 153.97,32.2 156.21,98.1 158.44,71.3 160.68,35.9 162.91,76.5 165.15,70.8 167.38,77.5 169.62,64.1 171.85,66.2 174.09,101.2 176.32,63.7 178.56,100.2 180.79,69.3 183.03,46 185.26,22.9 187.5,77.5 189.73,95 191.97,102.8 194.2,76.5 196.44,49.7 198.67,50.7 200.91,57.9 203.14,77.5 205.38,73.4 207.61,45.1 209.85,117.7 212.08,92.9 214.32,19.2 216.55,56.5 218.79,115.6 221.02,52.8 223.26,29.5 225.49,72.8 227.73,96.7 229.96,62 232.2,89.9" fill="none" stroke="#ff7f0e" stroke-width="0.74" stroke-linejoin="round"/>
<g fill="#ff7f0e" fill-opacity="0.1" stroke="#ff7f0e" stroke-width="0.6" stroke-opacity="0.75"><circle cx="10.93" cy="55.2" r="1.7"/><circle cx="13.17" cy="104.3" r="1.7"/><circle cx="15.4" cy="91.9" r="1.7"/><circle cx="17.64" cy="106.3" r="1.7"/><circle cx="19.88" cy="46.6" r="1.7"/><circle cx="22.11" cy="66.2" r="1.7"/><circle cx="24.34" cy="30.1" r="1.7"/><circle cx="26.58" cy="66.2" r="1.7"/><circle cx="28.81" cy="45.1" r="1.7"/><circle cx="31.05" cy="94" r="1.7"/><circle cx="33.28" cy="57.3" r="1.7"/><circle cx="35.52" cy="39.8" r="1.7"/><circle cx="37.75" cy="89.9" r="1.7"/><circle cx="39.99" cy="77.1" r="1.7"/><circle cx="42.22" cy="40.8" r="1.7"/><circle cx="44.46" cy="92.5" r="1.7"/><circle cx="46.69" cy="85.7" r="1.7"/><circle cx="48.93" cy="74.4" r="1.7"/><circle cx="51.16" cy="96" r="1.7"/><circle cx="53.4" cy="60.6" r="1.7"/><circle cx="55.63" cy="103.3" r="1.7"/><circle cx="57.87" cy="55.9" r="1.7"/><circle cx="60.1" cy="68.2" r="1.7"/><circle cx="62.34" cy="95.6" r="1.7"/><circle cx="64.58" cy="82.6" r="1.7"/><circle cx="66.81" cy="63.7" r="1.7"/><circle cx="69.05" cy="77.1" r="1.7"/><circle cx="71.28" cy="105.3" r="1.7"/><circle cx="73.52" cy="56.5" r="1.7"/><circle cx="75.75" cy="95.6" r="1.7"/><circle cx="77.98" cy="74" r="1.7"/><circle cx="80.22" cy="103.9" r="1.7"/><circle cx="82.45" cy="24.5" r="1.7"/><circle cx="84.69" cy="76.5" r="1.7"/><circle cx="86.92" cy="55.9" r="1.7"/><circle cx="89.16" cy="85.1" r="1.7"/><circle cx="91.39" cy="26" r="1.7"/><circle cx="93.63" cy="49.7" r="1.7"/><circle cx="95.86" cy="98.7" r="1.7"/><circle cx="98.1" cy="84.7" r="1.7"/><circle cx="100.33" cy="52.8" r="1.7"/><circle cx="102.57" cy="79.6" r="1.7"/><circle cx="104.8" cy="75.4" r="1.7"/><circle cx="107.04" cy="109" r="1.7"/><circle cx="109.27" cy="74.4" r="1.7"/><circle cx="111.51" cy="97.1" r="1.7"/><circle cx="113.74" cy="75.4" r="1.7"/><circle cx="115.98" cy="71.3" r="1.7"/><circle cx="118.22" cy="52.1" r="1.7"/><circle cx="120.45" cy="98.1" r="1.7"/><circle cx="122.69" cy="86.8" r="1.7"/><circle cx="124.92" cy="57.3" r="1.7"/><circle cx="127.16" cy="48.6" r="1.7"/><circle cx="129.39" cy="75.4" r="1.7"/><circle cx="131.62" cy="95" r="1.7"/><circle cx="133.86" cy="70.9" r="1.7"/><circle cx="136.09" cy="111.9" r="1.7"/><circle cx="138.33" cy="62" r="1.7"/><circle cx="140.56" cy="38.3" r="1.7"/><circle cx="142.8" cy="68.2" r="1.7"/><circle cx="145.03" cy="54.8" r="1.7"/><circle cx="147.27" cy="91.9" r="1.7"/><circle cx="149.5" cy="85.1" r="1.7"/><circle cx="151.74" cy="83.7" r="1.7"/><circle cx="153.97" cy="32.2" r="1.7"/><circle cx="156.21" cy="98.1" r="1.7"/><circle cx="158.44" cy="71.3" r="1.7"/><circle cx="160.68" cy="35.9" r="1.7"/><circle cx="162.91" cy="76.5" r="1.7"/><circle cx="165.15" cy="70.8" r="1.7"/><circle cx="167.38" cy="77.5" r="1.7"/><circle cx="169.62" cy="64.1" r="1.7"/><circle cx="171.85" cy="66.2" r="1.7"/><circle cx="174.09" cy="101.2" r="1.7"/><circle cx="176.32" cy="63.7" r="1.7"/><circle cx="178.56" cy="100.2" r="1.7"/><circle cx="180.79" cy="69.3" r="1.7"/><circle cx="183.03" cy="46" r="1.7"/><circle cx="185.26" cy="22.9" r="1.7"/><circle cx="187.5" cy="77.5" r="1.7"/><circle cx="189.73" cy="95" r="1.7"/><circle cx="191.97" cy="102.8" r="1.7"/><circle cx="194.2" cy="76.5" r="1.7"/><circle cx="196.44" cy="49.7" r="1.7"/><circle cx="198.67" cy="50.7" r="1.7"/><circle cx="200.91" cy="57.9" r="1.7"/><circle cx="203.14" cy="77.5" r="1.7"/><circle cx="205.38" cy="73.4" r="1.7"/><circle cx="207.61" cy="45.1" r="1.7"/><circle cx="209.85" cy="117.7" r="1.7"/><circle cx="212.08" cy="92.9" r="1.7"/><circle cx="214.32" cy="19.2" r="1.7"/><circle cx="216.55" cy="56.5" r="1.7"/><circle cx="218.79" cy="115.6" r="1.7"/><circle cx="221.02" cy="52.8" r="1.7"/><circle cx="223.26" cy="29.5" r="1.7"/><circle cx="225.49" cy="72.8" r="1.7"/><circle cx="227.73" cy="96.7" r="1.7"/><circle cx="229.96" cy="62" r="1.7"/><circle cx="232.2" cy="89.9" r="1.7"/></g>
<text class="c" x="117.3" y="166.1" text-anchor="middle">(g) O-AE-b</text>
</g>
<g>
<rect x="330.9" y="610.6" width="181.5" height="33.8" rx="1.6" fill="#fff" stroke="#cfcfcf" stroke-width="0.8"/>
<path d="M334.7 618.6H356.8" stroke="#1f77b4" stroke-width="1.9"/><circle cx="345.7" cy="618.6" r="3.75" fill="#1f77b4"/>
<path d="M334.7 634.1H356.8" stroke="#ff7f0e" stroke-width="1.9"/><circle cx="345.7" cy="634.1" r="4" fill="none" stroke="#ff7f0e" stroke-width="1.2"/>
<text class="g" x="364.6" y="622.65">Actual Monthly Revenue</text>
<text class="g" x="364.6" y="638.1">Predicted Monthly Revenue</text>
</g>
</svg>
</body></html>
